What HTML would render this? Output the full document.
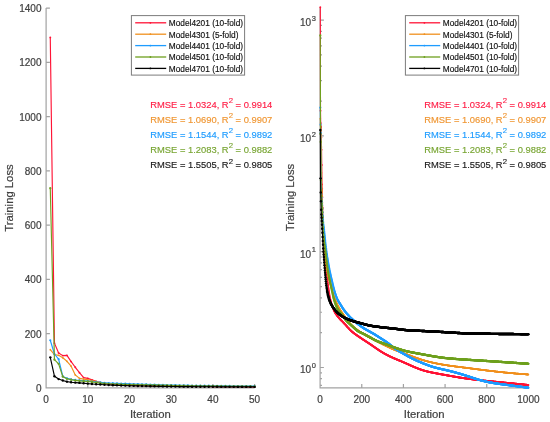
<!DOCTYPE html>
<html lang="en"><head><meta charset="utf-8"><title>Training Loss</title>
<style>html,body{margin:0;padding:0;background:#fff}svg{display:block;filter:blur(0.35px)}</style></head>
<body>
<svg width="550" height="422" viewBox="0 0 550 422" font-family="'Liberation Sans', sans-serif">
<rect width="550" height="422" fill="#fff"/>
<defs><marker id="mr" markerUnits="userSpaceOnUse" markerWidth="4" markerHeight="4" refX="2" refY="2" overflow="visible"><circle cx="2" cy="2" r="0.95" fill="#ff1436"/></marker><marker id="mo" markerUnits="userSpaceOnUse" markerWidth="4" markerHeight="4" refX="2" refY="2" overflow="visible"><circle cx="2" cy="2" r="0.85" fill="#f0901e"/></marker><marker id="mb" markerUnits="userSpaceOnUse" markerWidth="4" markerHeight="4" refX="2" refY="2" overflow="visible"><circle cx="2" cy="2" r="1.1" fill="#1e9cff"/></marker><marker id="mg" markerUnits="userSpaceOnUse" markerWidth="4" markerHeight="4" refX="2" refY="2" overflow="visible"><circle cx="2" cy="2" r="1.15" fill="#6ea01e"/></marker><marker id="mk" markerUnits="userSpaceOnUse" markerWidth="4" markerHeight="4" refX="2" refY="2" overflow="visible"><circle cx="2" cy="2" r="1.2" fill="#000000"/></marker></defs>
<g id="left">
<path d="M46.1,8.1 V387.9 H254.6" fill="none" stroke="#a2a2a2" stroke-width="1.2"/>
<path d="M46.1,333.64 h3.8 M46.1,279.39 h3.8 M46.1,225.13 h3.8 M46.1,170.87 h3.8 M46.1,116.61 h3.8 M46.1,62.36 h3.8 M46.1,8.10 h3.8 M87.80,387.9 v-3.8 M129.50,387.9 v-3.8 M171.20,387.9 v-3.8 M212.90,387.9 v-3.8 M254.60,387.9 v-3.8" fill="none" stroke="#a2a2a2" stroke-width="1.2"/>
<path d="M50.27,37.40 L54.44,343.14 L58.61,352.90 L62.78,355.62 L66.95,355.35 L71.12,361.59 L75.29,367.28 L79.46,372.71 L83.63,377.59 L87.80,378.40 L91.97,379.89 L96.14,381.39 L100.31,382.50 L104.48,383.40 L108.65,384.10 L112.82,384.68 L116.99,385.05 L121.16,385.23 L125.33,385.36 L129.50,385.46 L133.67,385.55 L137.84,385.64 L142.01,385.71 L146.18,385.78 L150.35,385.84 L154.52,385.89 L158.69,385.94 L162.86,385.98 L167.03,386.03 L171.20,386.07 L175.37,386.12 L179.54,386.17 L183.71,386.22 L187.88,386.28 L192.05,386.33 L196.22,386.38 L200.39,386.43 L204.56,386.48 L208.73,386.53 L212.90,386.57 L217.07,386.61 L221.24,386.65 L225.41,386.68 L229.58,386.72 L233.75,386.75 L237.92,386.78 L242.09,386.80 L246.26,386.82 L250.43,386.84 L254.60,386.86" fill="none" stroke="#ff1436" stroke-width="1.15" stroke-linejoin="round" marker-start="url(#mr)" marker-mid="url(#mr)" marker-end="url(#mr)"/>
<path d="M50.27,349.65 L54.44,354.53 L58.61,355.35 L62.78,357.79 L66.95,361.31 L71.12,366.20 L75.29,374.88 L79.46,378.40 L83.63,379.06 L87.80,379.76 L91.97,380.65 L96.14,381.60 L100.31,382.42 L104.48,383.02 L108.65,383.45 L112.82,383.83 L116.99,384.16 L121.16,384.44 L125.33,384.68 L129.50,384.88 L133.67,385.05 L137.84,385.19 L142.01,385.31 L146.18,385.41 L150.35,385.51 L154.52,385.60 L158.69,385.68 L162.86,385.75 L167.03,385.81 L171.20,385.87 L175.37,385.93 L179.54,385.98 L183.71,386.02 L187.88,386.07 L192.05,386.11 L196.22,386.14 L200.39,386.18 L204.56,386.21 L208.73,386.24 L212.90,386.26 L217.07,386.29 L221.24,386.32 L225.41,386.34 L229.58,386.36 L233.75,386.39 L237.92,386.41 L242.09,386.43 L246.26,386.45 L250.43,386.47 L254.60,386.49" fill="none" stroke="#f0901e" stroke-width="1.15" stroke-linejoin="round" marker-start="url(#mo)" marker-mid="url(#mo)" marker-end="url(#mo)"/>
<path d="M50.27,340.26 L54.44,353.99 L58.61,359.14 L62.78,376.23 L66.95,378.40 L71.12,379.35 L75.29,379.97 L79.46,380.44 L83.63,380.79 L87.80,381.12 L91.97,381.52 L96.14,381.96 L100.31,382.38 L104.48,382.74 L108.65,383.02 L112.82,383.22 L116.99,383.39 L121.16,383.54 L125.33,383.69 L129.50,383.83 L133.67,383.98 L137.84,384.13 L142.01,384.28 L146.18,384.42 L150.35,384.55 L154.52,384.68 L158.69,384.80 L162.86,384.91 L167.03,385.01 L171.20,385.10 L175.37,385.19 L179.54,385.27 L183.71,385.34 L187.88,385.42 L192.05,385.48 L196.22,385.55 L200.39,385.61 L204.56,385.66 L208.73,385.72 L212.90,385.77 L217.07,385.82 L221.24,385.87 L225.41,385.92 L229.58,385.96 L233.75,386.00 L237.92,386.04 L242.09,386.08 L246.26,386.12 L250.43,386.15 L254.60,386.18" fill="none" stroke="#1e9cff" stroke-width="1.15" stroke-linejoin="round" marker-start="url(#mb)" marker-mid="url(#mb)" marker-end="url(#mb)"/>
<path d="M50.27,188.23 L54.44,359.69 L58.61,363.86 L62.78,376.64 L66.95,378.78 L71.12,379.76 L75.29,380.38 L79.46,380.85 L83.63,381.18 L87.80,381.50 L91.97,381.97 L96.14,382.52 L100.31,383.06 L104.48,383.51 L108.65,383.83 L112.82,384.05 L116.99,384.23 L121.16,384.39 L125.33,384.52 L129.50,384.64 L133.67,384.75 L137.84,384.85 L142.01,384.94 L146.18,385.02 L150.35,385.10 L154.52,385.19 L158.69,385.27 L162.86,385.36 L167.03,385.44 L171.20,385.52 L175.37,385.60 L179.54,385.68 L183.71,385.75 L187.88,385.82 L192.05,385.89 L196.22,385.95 L200.39,386.01 L204.56,386.06 L208.73,386.10 L212.90,386.15 L217.07,386.19 L221.24,386.22 L225.41,386.26 L229.58,386.29 L233.75,386.32 L237.92,386.35 L242.09,386.38 L246.26,386.41 L250.43,386.44 L254.60,386.47" fill="none" stroke="#6ea01e" stroke-width="1.15" stroke-linejoin="round" marker-start="url(#mg)" marker-mid="url(#mg)" marker-end="url(#mg)"/>
<path d="M50.27,357.33 L54.44,376.23 L58.61,379.08 L62.78,380.49 L66.95,381.66 L71.12,382.20 L75.29,382.58 L79.46,382.91 L83.63,383.27 L87.80,383.61 L91.97,383.95 L96.14,384.26 L100.31,384.54 L104.48,384.78 L108.65,385.00 L112.82,385.19 L116.99,385.33 L121.16,385.46 L125.33,385.59 L129.50,385.71 L133.67,385.83 L137.84,385.94 L142.01,386.03 L146.18,386.12 L150.35,386.19 L154.52,386.27 L158.69,386.33 L162.86,386.40 L167.03,386.45 L171.20,386.51 L175.37,386.55 L179.54,386.60 L183.71,386.63 L187.88,386.66 L192.05,386.69 L196.22,386.72 L200.39,386.74 L204.56,386.76 L208.73,386.78 L212.90,386.80 L217.07,386.81 L221.24,386.83 L225.41,386.84 L229.58,386.86 L233.75,386.87 L237.92,386.88 L242.09,386.89 L246.26,386.90 L250.43,386.91 L254.60,386.92" fill="none" stroke="#000000" stroke-width="1.15" stroke-linejoin="round" marker-start="url(#mk)" marker-mid="url(#mk)" marker-end="url(#mk)"/>
<g font-size="10" fill="#404040" stroke="#404040" stroke-width="0.2">
<text x="41.5" y="391.9" text-anchor="end">0</text>
<text x="41.5" y="337.6" text-anchor="end">200</text>
<text x="41.5" y="283.4" text-anchor="end">400</text>
<text x="41.5" y="229.1" text-anchor="end">600</text>
<text x="41.5" y="174.9" text-anchor="end">800</text>
<text x="41.5" y="120.6" text-anchor="end">1000</text>
<text x="41.5" y="66.4" text-anchor="end">1200</text>
<text x="41.5" y="12.1" text-anchor="end">1400</text>
<text x="46.1" y="402.8" text-anchor="middle">0</text>
<text x="87.8" y="402.8" text-anchor="middle">10</text>
<text x="129.5" y="402.8" text-anchor="middle">20</text>
<text x="171.2" y="402.8" text-anchor="middle">30</text>
<text x="212.9" y="402.8" text-anchor="middle">40</text>
<text x="254.6" y="402.8" text-anchor="middle">50</text>
</g>
<text x="150.3" y="418" font-size="11.3" fill="#404040" stroke="#404040" stroke-width="0.2" text-anchor="middle">Iteration</text>
<text transform="translate(12.5,198.0) rotate(-90)" font-size="11.3" fill="#404040" stroke="#404040" stroke-width="0.2" text-anchor="middle">Training Loss</text>
</g>
<g id="right">
<clipPath id="rc"><rect x="318.1" y="5.2" width="214.29999999999995" height="388.7"/></clipPath>
<path d="M320.1,7.2 V387.9 H528.4" fill="none" stroke="#a2a2a2" stroke-width="1.2"/>
<path d="M320.1,367.50 h3.8 M320.1,251.70 h3.8 M320.1,135.90 h3.8 M320.1,20.10 h3.8 M320.1,385.44 h1.9 M320.1,378.72 h1.9 M320.1,372.80 h1.9 M320.1,332.64 h1.9 M320.1,312.25 h1.9 M320.1,297.78 h1.9 M320.1,286.56 h1.9 M320.1,277.39 h1.9 M320.1,269.64 h1.9 M320.1,262.92 h1.9 M320.1,257.00 h1.9 M320.1,216.84 h1.9 M320.1,196.45 h1.9 M320.1,181.98 h1.9 M320.1,170.76 h1.9 M320.1,161.59 h1.9 M320.1,153.84 h1.9 M320.1,147.12 h1.9 M320.1,141.20 h1.9 M320.1,101.04 h1.9 M320.1,80.65 h1.9 M320.1,66.18 h1.9 M320.1,54.96 h1.9 M320.1,45.79 h1.9 M320.1,38.04 h1.9 M320.1,31.32 h1.9 M320.1,25.40 h1.9 M361.76,387.9 v-3.8 M403.42,387.9 v-3.8 M445.08,387.9 v-3.8 M486.74,387.9 v-3.8 M528.40,387.9 v-3.8" fill="none" stroke="#a2a2a2" stroke-width="1.2"/>
<g clip-path="url(#rc)">
<path d="M320.31,7.22 L320.52,110.72 L320.72,123.09 L320.93,127.15 L321.14,126.73 L321.35,137.43 L321.56,149.70 L321.77,165.06 L321.97,184.56 L322.18,188.70 L322.39,197.25 L322.60,207.67 L322.81,217.05 L323.02,226.27 L323.22,234.78 L323.43,243.02 L323.64,249.25 L323.85,252.54 L324.06,254.94 L324.27,257.00 L324.47,258.99 L324.68,260.81 L324.89,262.48 L325.10,264.04 L325.31,265.50 L325.52,266.84 L325.72,268.05 L325.93,269.19 L326.14,270.34 L326.35,271.55 L326.56,272.87 L326.77,274.33 L326.97,275.90 L327.18,277.54 L327.39,279.24 L327.60,280.95 L327.81,282.65 L328.02,284.33 L328.22,285.94 L328.43,287.50 L328.64,289.04 L328.85,290.54 L329.06,292.00 L329.27,293.41 L329.47,294.75 L329.68,295.99 L329.89,297.14 L330.10,298.19 L330.31,299.17 L330.52,300.07 L330.72,300.93 L330.93,301.75 L331.14,302.53 L331.35,303.28 L331.56,304.01 L331.76,304.70 L331.97,305.37 L332.18,306.01 L332.39,306.63 L332.60,307.23 L332.81,307.80 L333.01,308.34 L333.22,308.86 L333.43,309.36 L333.64,309.84 L333.85,310.30 L334.06,310.75 L334.26,311.17 L334.47,311.57 L334.68,311.96 L334.89,312.34 L335.10,312.70 L335.31,313.04 L335.51,313.38 L335.72,313.70 L335.93,314.02 L336.14,314.32 L336.35,314.61 L336.56,314.90 L336.76,315.18 L336.97,315.46 L337.18,315.73 L337.39,316.00 L337.60,316.26 L337.81,316.52 L338.01,316.77 L338.22,317.03 L338.43,317.28 L338.64,317.53 L338.85,317.77 L339.06,318.02 L339.26,318.25 L339.47,318.49 L339.68,318.72 L339.89,318.95 L340.10,319.18 L340.31,319.41 L340.51,319.63 L340.72,319.85 L340.93,320.06 L341.14,320.28 L341.35,320.49 L341.55,320.70 L341.76,320.92 L341.97,321.13 L342.18,321.34 L342.39,321.55 L342.60,321.76 L342.80,321.97 L343.01,322.18 L343.22,322.40 L343.43,322.62 L343.64,322.83 L343.85,323.05 L344.05,323.27 L344.26,323.49 L344.47,323.72 L344.68,323.94 L344.89,324.17 L345.10,324.40 L345.30,324.62 L345.51,324.85 L345.72,325.08 L345.93,325.31 L346.14,325.54 L346.35,325.77 L346.55,326.00 L346.76,326.23 L346.97,326.47 L347.18,326.70 L347.39,326.93 L347.60,327.16 L347.80,327.38 L348.01,327.61 L348.22,327.84 L348.43,328.07 L348.64,328.30 L348.85,328.52 L349.05,328.75 L349.26,328.97 L349.47,329.19 L349.68,329.41 L349.89,329.63 L350.10,329.84 L350.30,330.05 L350.51,330.26 L350.72,330.46 L350.93,330.66 L351.14,330.86 L351.35,331.06 L351.55,331.25 L351.76,331.43 L351.97,331.62 L352.18,331.80 L352.39,331.98 L352.59,332.15 L352.80,332.32 L353.01,332.49 L353.22,332.66 L353.43,332.82 L353.64,332.99 L353.84,333.15 L354.05,333.31 L354.26,333.46 L354.47,333.62 L354.68,333.77 L354.89,333.92 L355.09,334.08 L355.30,334.23 L355.51,334.37 L355.72,334.52 L355.93,334.67 L356.14,334.82 L356.34,334.96 L356.55,335.11 L356.76,335.25 L356.97,335.39 L357.18,335.54 L357.39,335.68 L357.59,335.82 L357.80,335.96 L358.01,336.11 L358.22,336.25 L358.43,336.39 L358.64,336.53 L358.84,336.67 L359.05,336.81 L359.26,336.95 L359.47,337.10 L359.68,337.24 L359.89,337.38 L360.09,337.52 L360.30,337.66 L360.51,337.80 L360.72,337.94 L360.93,338.08 L361.14,338.22 L361.34,338.36 L361.55,338.50 L361.76,338.64 L361.97,338.78 L362.18,338.92 L362.38,339.05 L362.59,339.19 L362.80,339.33 L363.01,339.47 L363.22,339.61 L363.43,339.74 L363.63,339.88 L363.84,340.02 L364.05,340.15 L364.26,340.29 L364.47,340.42 L364.68,340.56 L364.88,340.70 L365.09,340.83 L365.30,340.97 L365.51,341.10 L365.72,341.24 L365.93,341.37 L366.13,341.51 L366.34,341.64 L366.55,341.78 L366.76,341.92 L366.97,342.05 L367.18,342.19 L367.38,342.32 L367.59,342.46 L367.80,342.60 L368.01,342.73 L368.22,342.87 L368.43,343.01 L368.63,343.15 L368.84,343.28 L369.05,343.42 L369.26,343.56 L369.47,343.70 L369.68,343.84 L369.88,343.98 L370.09,344.12 L370.30,344.26 L370.51,344.40 L370.72,344.54 L370.93,344.68 L371.13,344.82 L371.34,344.97 L371.55,345.11 L371.76,345.25 L371.97,345.39 L372.18,345.54 L372.38,345.68 L372.59,345.82 L372.80,345.97 L373.01,346.11 L373.22,346.26 L373.42,346.40 L373.63,346.55 L373.84,346.69 L374.05,346.84 L374.26,346.98 L374.47,347.13 L374.67,347.27 L374.88,347.42 L375.09,347.56 L375.30,347.70 L375.51,347.85 L375.72,347.99 L375.92,348.14 L376.13,348.28 L376.34,348.43 L376.55,348.57 L376.76,348.71 L376.97,348.85 L377.17,349.00 L377.38,349.14 L377.59,349.28 L377.80,349.42 L378.01,349.56 L378.22,349.70 L378.42,349.84 L378.63,349.98 L378.84,350.12 L379.05,350.26 L379.26,350.40 L379.47,350.54 L379.67,350.67 L379.88,350.81 L380.09,350.94 L380.30,351.08 L380.51,351.21 L380.72,351.34 L380.92,351.47 L381.13,351.61 L381.34,351.74 L381.55,351.86 L381.76,351.99 L381.97,352.12 L382.17,352.25 L382.38,352.37 L382.59,352.50 L382.80,352.62 L383.01,352.74 L383.21,352.87 L383.42,352.99 L383.63,353.11 L383.84,353.23 L384.05,353.35 L384.26,353.46 L384.46,353.58 L384.67,353.70 L384.88,353.81 L385.09,353.93 L385.30,354.04 L385.51,354.15 L385.71,354.27 L385.92,354.38 L386.13,354.49 L386.34,354.60 L386.55,354.71 L386.76,354.82 L386.96,354.93 L387.17,355.03 L387.38,355.14 L387.59,355.25 L387.80,355.35 L388.01,355.46 L388.21,355.56 L388.42,355.67 L388.63,355.77 L388.84,355.88 L389.05,355.98 L389.26,356.08 L389.46,356.18 L389.67,356.28 L389.88,356.38 L390.09,356.48 L390.30,356.58 L390.51,356.68 L390.71,356.78 L390.92,356.88 L391.13,356.98 L391.34,357.07 L391.55,357.17 L391.76,357.26 L391.96,357.36 L392.17,357.45 L392.38,357.55 L392.59,357.64 L392.80,357.74 L393.00,357.83 L393.21,357.92 L393.42,358.01 L393.63,358.11 L393.84,358.20 L394.05,358.29 L394.25,358.38 L394.46,358.47 L394.67,358.56 L394.88,358.65 L395.09,358.74 L395.30,358.82 L395.50,358.91 L395.71,359.00 L395.92,359.09 L396.13,359.18 L396.34,359.26 L396.55,359.35 L396.75,359.44 L396.96,359.52 L397.17,359.61 L397.38,359.70 L397.59,359.78 L397.80,359.87 L398.00,359.95 L398.21,360.04 L398.42,360.13 L398.63,360.21 L398.84,360.30 L399.05,360.38 L399.25,360.47 L399.46,360.56 L399.67,360.64 L399.88,360.73 L400.09,360.81 L400.30,360.90 L400.50,360.99 L400.71,361.08 L400.92,361.16 L401.13,361.25 L401.34,361.34 L401.55,361.42 L401.75,361.51 L401.96,361.60 L402.17,361.69 L402.38,361.78 L402.59,361.87 L402.80,361.96 L403.00,362.05 L403.21,362.14 L403.42,362.23 L403.63,362.32 L403.84,362.41 L404.04,362.50 L404.25,362.59 L404.46,362.68 L404.67,362.77 L404.88,362.86 L405.09,362.95 L405.29,363.05 L405.50,363.14 L405.71,363.23 L405.92,363.32 L406.13,363.42 L406.34,363.51 L406.54,363.60 L406.75,363.70 L406.96,363.79 L407.17,363.88 L407.38,363.98 L407.59,364.07 L407.79,364.16 L408.00,364.26 L408.21,364.35 L408.42,364.44 L408.63,364.54 L408.84,364.63 L409.04,364.73 L409.25,364.82 L409.46,364.91 L409.67,365.01 L409.88,365.10 L410.09,365.19 L410.29,365.28 L410.50,365.38 L410.71,365.47 L410.92,365.56 L411.13,365.65 L411.34,365.75 L411.54,365.84 L411.75,365.93 L411.96,366.02 L412.17,366.11 L412.38,366.20 L412.59,366.30 L412.79,366.39 L413.00,366.48 L413.21,366.57 L413.42,366.66 L413.63,366.74 L413.84,366.83 L414.04,366.92 L414.25,367.01 L414.46,367.10 L414.67,367.19 L414.88,367.27 L415.08,367.36 L415.29,367.45 L415.50,367.53 L415.71,367.62 L415.92,367.70 L416.13,367.79 L416.33,367.87 L416.54,367.96 L416.75,368.04 L416.96,368.13 L417.17,368.21 L417.38,368.29 L417.58,368.37 L417.79,368.45 L418.00,368.53 L418.21,368.61 L418.42,368.69 L418.63,368.77 L418.83,368.85 L419.04,368.93 L419.25,369.00 L419.46,369.08 L419.67,369.16 L419.88,369.23 L420.08,369.31 L420.29,369.38 L420.50,369.45 L420.71,369.53 L420.92,369.60 L421.13,369.67 L421.33,369.74 L421.54,369.81 L421.75,369.88 L421.96,369.95 L422.17,370.02 L422.38,370.08 L422.58,370.15 L422.79,370.21 L423.00,370.28 L423.21,370.34 L423.42,370.41 L423.63,370.47 L423.83,370.53 L424.04,370.59 L424.25,370.65 L424.46,370.71 L424.67,370.77 L424.87,370.83 L425.08,370.89 L425.29,370.95 L425.50,371.00 L425.71,371.06 L425.92,371.12 L426.12,371.17 L426.33,371.23 L426.54,371.28 L426.75,371.33 L426.96,371.38 L427.17,371.44 L427.37,371.49 L427.58,371.54 L427.79,371.59 L428.00,371.64 L428.21,371.69 L428.42,371.74 L428.62,371.79 L428.83,371.83 L429.04,371.88 L429.25,371.93 L429.46,371.98 L429.67,372.02 L429.87,372.07 L430.08,372.11 L430.29,372.16 L430.50,372.20 L430.71,372.25 L430.92,372.29 L431.12,372.34 L431.33,372.38 L431.54,372.42 L431.75,372.47 L431.96,372.51 L432.17,372.55 L432.37,372.60 L432.58,372.64 L432.79,372.68 L433.00,372.72 L433.21,372.76 L433.42,372.81 L433.62,372.85 L433.83,372.89 L434.04,372.93 L434.25,372.97 L434.46,373.01 L434.66,373.05 L434.87,373.09 L435.08,373.13 L435.29,373.17 L435.50,373.21 L435.71,373.25 L435.91,373.29 L436.12,373.33 L436.33,373.37 L436.54,373.41 L436.75,373.45 L436.96,373.49 L437.16,373.53 L437.37,373.57 L437.58,373.60 L437.79,373.64 L438.00,373.68 L438.21,373.72 L438.41,373.76 L438.62,373.80 L438.83,373.84 L439.04,373.87 L439.25,373.91 L439.46,373.95 L439.66,373.99 L439.87,374.03 L440.08,374.07 L440.29,374.10 L440.50,374.14 L440.71,374.18 L440.91,374.22 L441.12,374.26 L441.33,374.29 L441.54,374.33 L441.75,374.37 L441.96,374.41 L442.16,374.45 L442.37,374.48 L442.58,374.52 L442.79,374.56 L443.00,374.60 L443.21,374.63 L443.41,374.67 L443.62,374.71 L443.83,374.75 L444.04,374.78 L444.25,374.82 L444.46,374.86 L444.66,374.90 L444.87,374.93 L445.08,374.97 L445.29,375.01 L445.50,375.05 L445.70,375.08 L445.91,375.12 L446.12,375.16 L446.33,375.20 L446.54,375.23 L446.75,375.27 L446.95,375.31 L447.16,375.35 L447.37,375.38 L447.58,375.42 L447.79,375.46 L448.00,375.50 L448.20,375.53 L448.41,375.57 L448.62,375.61 L448.83,375.65 L449.04,375.68 L449.25,375.72 L449.45,375.76 L449.66,375.79 L449.87,375.83 L450.08,375.87 L450.29,375.91 L450.50,375.94 L450.70,375.98 L450.91,376.02 L451.12,376.05 L451.33,376.09 L451.54,376.13 L451.75,376.17 L451.95,376.20 L452.16,376.24 L452.37,376.28 L452.58,376.31 L452.79,376.35 L453.00,376.39 L453.20,376.42 L453.41,376.46 L453.62,376.50 L453.83,376.53 L454.04,376.57 L454.25,376.60 L454.45,376.64 L454.66,376.68 L454.87,376.71 L455.08,376.75 L455.29,376.78 L455.50,376.82 L455.70,376.86 L455.91,376.89 L456.12,376.93 L456.33,376.96 L456.54,377.00 L456.74,377.03 L456.95,377.07 L457.16,377.10 L457.37,377.14 L457.58,377.17 L457.79,377.21 L457.99,377.24 L458.20,377.28 L458.41,377.31 L458.62,377.34 L458.83,377.38 L459.04,377.41 L459.24,377.45 L459.45,377.48 L459.66,377.51 L459.87,377.55 L460.08,377.58 L460.29,377.61 L460.49,377.65 L460.70,377.68 L460.91,377.71 L461.12,377.74 L461.33,377.78 L461.54,377.81 L461.74,377.84 L461.95,377.87 L462.16,377.90 L462.37,377.94 L462.58,377.97 L462.79,378.00 L462.99,378.03 L463.20,378.06 L463.41,378.09 L463.62,378.12 L463.83,378.15 L464.04,378.19 L464.24,378.22 L464.45,378.25 L464.66,378.28 L464.87,378.31 L465.08,378.34 L465.29,378.37 L465.49,378.40 L465.70,378.42 L465.91,378.45 L466.12,378.48 L466.33,378.51 L466.53,378.54 L466.74,378.57 L466.95,378.60 L467.16,378.63 L467.37,378.66 L467.58,378.68 L467.78,378.71 L467.99,378.74 L468.20,378.77 L468.41,378.79 L468.62,378.82 L468.83,378.85 L469.03,378.88 L469.24,378.90 L469.45,378.93 L469.66,378.96 L469.87,378.99 L470.08,379.01 L470.28,379.04 L470.49,379.06 L470.70,379.09 L470.91,379.12 L471.12,379.14 L471.33,379.17 L471.53,379.20 L471.74,379.22 L471.95,379.25 L472.16,379.27 L472.37,379.30 L472.58,379.32 L472.78,379.35 L472.99,379.37 L473.20,379.40 L473.41,379.42 L473.62,379.45 L473.83,379.47 L474.03,379.50 L474.24,379.52 L474.45,379.55 L474.66,379.57 L474.87,379.60 L475.08,379.62 L475.28,379.64 L475.49,379.67 L475.70,379.69 L475.91,379.72 L476.12,379.74 L476.32,379.76 L476.53,379.79 L476.74,379.81 L476.95,379.84 L477.16,379.86 L477.37,379.88 L477.57,379.91 L477.78,379.93 L477.99,379.95 L478.20,379.98 L478.41,380.00 L478.62,380.02 L478.82,380.05 L479.03,380.07 L479.24,380.09 L479.45,380.11 L479.66,380.14 L479.87,380.16 L480.07,380.18 L480.28,380.21 L480.49,380.23 L480.70,380.25 L480.91,380.27 L481.12,380.30 L481.32,380.32 L481.53,380.34 L481.74,380.36 L481.95,380.38 L482.16,380.41 L482.37,380.43 L482.57,380.45 L482.78,380.47 L482.99,380.50 L483.20,380.52 L483.41,380.54 L483.62,380.56 L483.82,380.58 L484.03,380.60 L484.24,380.63 L484.45,380.65 L484.66,380.67 L484.87,380.69 L485.07,380.71 L485.28,380.73 L485.49,380.76 L485.70,380.78 L485.91,380.80 L486.12,380.82 L486.32,380.84 L486.53,380.86 L486.74,380.89 L486.95,380.91 L487.16,380.93 L487.36,380.95 L487.57,380.97 L487.78,380.99 L487.99,381.01 L488.20,381.03 L488.41,381.05 L488.61,381.08 L488.82,381.10 L489.03,381.12 L489.24,381.14 L489.45,381.16 L489.66,381.18 L489.86,381.20 L490.07,381.22 L490.28,381.24 L490.49,381.26 L490.70,381.28 L490.91,381.31 L491.11,381.33 L491.32,381.35 L491.53,381.37 L491.74,381.39 L491.95,381.41 L492.16,381.43 L492.36,381.45 L492.57,381.47 L492.78,381.49 L492.99,381.51 L493.20,381.53 L493.41,381.55 L493.61,381.57 L493.82,381.59 L494.03,381.61 L494.24,381.63 L494.45,381.65 L494.66,381.67 L494.86,381.70 L495.07,381.72 L495.28,381.74 L495.49,381.76 L495.70,381.78 L495.91,381.80 L496.11,381.82 L496.32,381.84 L496.53,381.86 L496.74,381.88 L496.95,381.90 L497.15,381.92 L497.36,381.94 L497.57,381.96 L497.78,381.98 L497.99,382.00 L498.20,382.02 L498.40,382.04 L498.61,382.06 L498.82,382.08 L499.03,382.10 L499.24,382.12 L499.45,382.14 L499.65,382.16 L499.86,382.18 L500.07,382.20 L500.28,382.22 L500.49,382.24 L500.70,382.26 L500.90,382.28 L501.11,382.30 L501.32,382.32 L501.53,382.34 L501.74,382.36 L501.95,382.38 L502.15,382.40 L502.36,382.42 L502.57,382.44 L502.78,382.46 L502.99,382.48 L503.20,382.50 L503.40,382.52 L503.61,382.54 L503.82,382.56 L504.03,382.58 L504.24,382.60 L504.45,382.62 L504.65,382.64 L504.86,382.66 L505.07,382.68 L505.28,382.70 L505.49,382.73 L505.70,382.75 L505.90,382.77 L506.11,382.79 L506.32,382.81 L506.53,382.83 L506.74,382.85 L506.95,382.87 L507.15,382.89 L507.36,382.91 L507.57,382.93 L507.78,382.95 L507.99,382.97 L508.19,382.99 L508.40,383.01 L508.61,383.03 L508.82,383.05 L509.03,383.07 L509.24,383.09 L509.44,383.11 L509.65,383.13 L509.86,383.15 L510.07,383.17 L510.28,383.19 L510.49,383.21 L510.69,383.23 L510.90,383.26 L511.11,383.28 L511.32,383.30 L511.53,383.32 L511.74,383.34 L511.94,383.36 L512.15,383.38 L512.36,383.40 L512.57,383.42 L512.78,383.44 L512.99,383.46 L513.19,383.48 L513.40,383.50 L513.61,383.52 L513.82,383.54 L514.03,383.56 L514.24,383.58 L514.44,383.61 L514.65,383.63 L514.86,383.65 L515.07,383.67 L515.28,383.69 L515.49,383.71 L515.69,383.73 L515.90,383.75 L516.11,383.77 L516.32,383.79 L516.53,383.81 L516.74,383.83 L516.94,383.85 L517.15,383.88 L517.36,383.90 L517.57,383.92 L517.78,383.94 L517.99,383.96 L518.19,383.98 L518.40,384.00 L518.61,384.02 L518.82,384.04 L519.03,384.06 L519.23,384.08 L519.44,384.10 L519.65,384.13 L519.86,384.15 L520.07,384.17 L520.28,384.19 L520.48,384.21 L520.69,384.23 L520.90,384.25 L521.11,384.27 L521.32,384.29 L521.53,384.31 L521.73,384.34 L521.94,384.36 L522.15,384.38 L522.36,384.40 L522.57,384.42 L522.78,384.44 L522.98,384.46 L523.19,384.48 L523.40,384.50 L523.61,384.52 L523.82,384.54 L524.03,384.57 L524.23,384.59 L524.44,384.61 L524.65,384.63 L524.86,384.65 L525.07,384.67 L525.28,384.69 L525.48,384.71 L525.69,384.73 L525.90,384.76 L526.11,384.78 L526.32,384.80 L526.53,384.82 L526.73,384.84 L526.94,384.86 L527.15,384.88 L527.36,384.90 L527.57,384.92 L527.78,384.94 L527.98,384.97 L528.19,384.99 L528.40,385.01" fill="none" stroke="#ff1436" stroke-width="1.1" stroke-linejoin="round" marker-start="url(#mr)" marker-mid="url(#mr)" marker-end="url(#mr)"/>
<path d="M320.31,118.62 L320.52,125.49 L320.72,126.73 L320.93,130.65 L321.14,136.92 L321.35,147.12 L321.56,172.81 L321.77,188.70 L321.97,192.27 L322.18,196.45 L322.39,202.29 L322.60,209.31 L322.81,216.32 L323.02,222.14 L323.22,226.86 L323.43,231.33 L323.64,235.53 L323.85,239.44 L324.06,243.04 L324.27,246.29 L324.47,249.19 L324.68,251.70 L324.89,253.95 L325.10,256.06 L325.31,258.05 L325.52,259.92 L325.72,261.68 L325.93,263.33 L326.14,264.88 L326.35,266.35 L326.56,267.73 L326.77,269.04 L326.97,270.27 L327.18,271.43 L327.39,272.54 L327.60,273.57 L327.81,274.55 L328.02,275.47 L328.22,276.33 L328.43,277.16 L328.64,277.96 L328.85,278.73 L329.06,279.49 L329.27,280.25 L329.47,281.01 L329.68,281.77 L329.89,282.53 L330.10,283.28 L330.31,284.03 L330.52,284.77 L330.72,285.51 L330.93,286.25 L331.14,286.97 L331.35,287.68 L331.56,288.39 L331.76,289.09 L331.97,289.79 L332.18,290.47 L332.39,291.16 L332.60,291.85 L332.81,292.52 L333.01,293.19 L333.22,293.86 L333.43,294.52 L333.64,295.18 L333.85,295.82 L334.06,296.45 L334.26,297.06 L334.47,297.66 L334.68,298.24 L334.89,298.80 L335.10,299.35 L335.31,299.88 L335.51,300.39 L335.72,300.90 L335.93,301.39 L336.14,301.87 L336.35,302.34 L336.56,302.80 L336.76,303.25 L336.97,303.70 L337.18,304.13 L337.39,304.56 L337.60,304.99 L337.81,305.40 L338.01,305.81 L338.22,306.22 L338.43,306.61 L338.64,307.00 L338.85,307.39 L339.06,307.77 L339.26,308.14 L339.47,308.51 L339.68,308.87 L339.89,309.23 L340.10,309.58 L340.31,309.93 L340.51,310.26 L340.72,310.60 L340.93,310.93 L341.14,311.25 L341.35,311.57 L341.55,311.88 L341.76,312.19 L341.97,312.50 L342.18,312.80 L342.39,313.10 L342.60,313.40 L342.80,313.69 L343.01,313.98 L343.22,314.27 L343.43,314.57 L343.64,314.86 L343.85,315.15 L344.05,315.44 L344.26,315.73 L344.47,316.02 L344.68,316.31 L344.89,316.60 L345.10,316.89 L345.30,317.19 L345.51,317.48 L345.72,317.77 L345.93,318.06 L346.14,318.36 L346.35,318.65 L346.55,318.94 L346.76,319.23 L346.97,319.52 L347.18,319.80 L347.39,320.09 L347.60,320.37 L347.80,320.65 L348.01,320.93 L348.22,321.21 L348.43,321.48 L348.64,321.75 L348.85,322.01 L349.05,322.27 L349.26,322.53 L349.47,322.78 L349.68,323.03 L349.89,323.28 L350.10,323.52 L350.30,323.75 L350.51,323.98 L350.72,324.21 L350.93,324.43 L351.14,324.65 L351.35,324.86 L351.55,325.07 L351.76,325.28 L351.97,325.48 L352.18,325.68 L352.39,325.88 L352.59,326.07 L352.80,326.26 L353.01,326.45 L353.22,326.63 L353.43,326.82 L353.64,327.00 L353.84,327.17 L354.05,327.35 L354.26,327.52 L354.47,327.69 L354.68,327.86 L354.89,328.03 L355.09,328.20 L355.30,328.36 L355.51,328.53 L355.72,328.69 L355.93,328.85 L356.14,329.00 L356.34,329.16 L356.55,329.32 L356.76,329.47 L356.97,329.62 L357.18,329.77 L357.39,329.92 L357.59,330.07 L357.80,330.22 L358.01,330.37 L358.22,330.51 L358.43,330.66 L358.64,330.80 L358.84,330.94 L359.05,331.09 L359.26,331.23 L359.47,331.37 L359.68,331.51 L359.89,331.65 L360.09,331.79 L360.30,331.92 L360.51,332.06 L360.72,332.20 L360.93,332.33 L361.14,332.47 L361.34,332.60 L361.55,332.74 L361.76,332.87 L361.97,333.00 L362.18,333.14 L362.38,333.27 L362.59,333.40 L362.80,333.53 L363.01,333.66 L363.22,333.79 L363.43,333.92 L363.63,334.05 L363.84,334.18 L364.05,334.31 L364.26,334.43 L364.47,334.56 L364.68,334.69 L364.88,334.81 L365.09,334.94 L365.30,335.06 L365.51,335.19 L365.72,335.31 L365.93,335.43 L366.13,335.55 L366.34,335.68 L366.55,335.80 L366.76,335.92 L366.97,336.04 L367.18,336.16 L367.38,336.28 L367.59,336.40 L367.80,336.52 L368.01,336.63 L368.22,336.75 L368.43,336.87 L368.63,336.99 L368.84,337.10 L369.05,337.22 L369.26,337.33 L369.47,337.45 L369.68,337.56 L369.88,337.68 L370.09,337.79 L370.30,337.90 L370.51,338.02 L370.72,338.13 L370.93,338.24 L371.13,338.36 L371.34,338.47 L371.55,338.58 L371.76,338.69 L371.97,338.80 L372.18,338.91 L372.38,339.02 L372.59,339.13 L372.80,339.24 L373.01,339.35 L373.22,339.46 L373.42,339.57 L373.63,339.68 L373.84,339.78 L374.05,339.89 L374.26,340.00 L374.47,340.11 L374.67,340.21 L374.88,340.32 L375.09,340.43 L375.30,340.53 L375.51,340.64 L375.72,340.75 L375.92,340.85 L376.13,340.96 L376.34,341.06 L376.55,341.17 L376.76,341.27 L376.97,341.38 L377.17,341.48 L377.38,341.59 L377.59,341.69 L377.80,341.80 L378.01,341.90 L378.22,342.01 L378.42,342.11 L378.63,342.21 L378.84,342.32 L379.05,342.42 L379.26,342.53 L379.47,342.63 L379.67,342.73 L379.88,342.84 L380.09,342.94 L380.30,343.04 L380.51,343.15 L380.72,343.25 L380.92,343.35 L381.13,343.46 L381.34,343.56 L381.55,343.66 L381.76,343.76 L381.97,343.87 L382.17,343.97 L382.38,344.07 L382.59,344.18 L382.80,344.28 L383.01,344.38 L383.21,344.48 L383.42,344.59 L383.63,344.69 L383.84,344.79 L384.05,344.89 L384.26,345.00 L384.46,345.10 L384.67,345.20 L384.88,345.30 L385.09,345.41 L385.30,345.51 L385.51,345.61 L385.71,345.71 L385.92,345.81 L386.13,345.91 L386.34,346.02 L386.55,346.12 L386.76,346.22 L386.96,346.32 L387.17,346.42 L387.38,346.52 L387.59,346.62 L387.80,346.72 L388.01,346.82 L388.21,346.92 L388.42,347.02 L388.63,347.12 L388.84,347.22 L389.05,347.32 L389.26,347.41 L389.46,347.51 L389.67,347.61 L389.88,347.71 L390.09,347.80 L390.30,347.90 L390.51,348.00 L390.71,348.09 L390.92,348.19 L391.13,348.28 L391.34,348.38 L391.55,348.47 L391.76,348.56 L391.96,348.66 L392.17,348.75 L392.38,348.84 L392.59,348.94 L392.80,349.03 L393.00,349.12 L393.21,349.21 L393.42,349.30 L393.63,349.39 L393.84,349.47 L394.05,349.56 L394.25,349.65 L394.46,349.74 L394.67,349.82 L394.88,349.91 L395.09,349.99 L395.30,350.08 L395.50,350.16 L395.71,350.25 L395.92,350.33 L396.13,350.41 L396.34,350.49 L396.55,350.57 L396.75,350.65 L396.96,350.73 L397.17,350.81 L397.38,350.89 L397.59,350.97 L397.80,351.05 L398.00,351.12 L398.21,351.20 L398.42,351.28 L398.63,351.35 L398.84,351.43 L399.05,351.50 L399.25,351.58 L399.46,351.65 L399.67,351.73 L399.88,351.80 L400.09,351.87 L400.30,351.95 L400.50,352.02 L400.71,352.09 L400.92,352.17 L401.13,352.24 L401.34,352.31 L401.55,352.39 L401.75,352.46 L401.96,352.53 L402.17,352.61 L402.38,352.68 L402.59,352.76 L402.80,352.83 L403.00,352.91 L403.21,352.98 L403.42,353.06 L403.63,353.13 L403.84,353.20 L404.04,353.28 L404.25,353.36 L404.46,353.43 L404.67,353.51 L404.88,353.59 L405.09,353.66 L405.29,353.74 L405.50,353.82 L405.71,353.89 L405.92,353.97 L406.13,354.05 L406.34,354.13 L406.54,354.21 L406.75,354.29 L406.96,354.36 L407.17,354.44 L407.38,354.52 L407.59,354.60 L407.79,354.68 L408.00,354.76 L408.21,354.84 L408.42,354.92 L408.63,355.00 L408.84,355.08 L409.04,355.16 L409.25,355.24 L409.46,355.32 L409.67,355.40 L409.88,355.47 L410.09,355.55 L410.29,355.63 L410.50,355.71 L410.71,355.79 L410.92,355.87 L411.13,355.95 L411.34,356.03 L411.54,356.10 L411.75,356.18 L411.96,356.26 L412.17,356.34 L412.38,356.42 L412.59,356.49 L412.79,356.57 L413.00,356.65 L413.21,356.72 L413.42,356.80 L413.63,356.88 L413.84,356.95 L414.04,357.03 L414.25,357.11 L414.46,357.18 L414.67,357.26 L414.88,357.33 L415.08,357.41 L415.29,357.48 L415.50,357.56 L415.71,357.63 L415.92,357.70 L416.13,357.78 L416.33,357.85 L416.54,357.93 L416.75,358.00 L416.96,358.07 L417.17,358.15 L417.38,358.22 L417.58,358.29 L417.79,358.36 L418.00,358.43 L418.21,358.51 L418.42,358.58 L418.63,358.65 L418.83,358.72 L419.04,358.79 L419.25,358.86 L419.46,358.93 L419.67,359.00 L419.88,359.07 L420.08,359.14 L420.29,359.21 L420.50,359.28 L420.71,359.35 L420.92,359.41 L421.13,359.48 L421.33,359.55 L421.54,359.62 L421.75,359.68 L421.96,359.75 L422.17,359.81 L422.38,359.88 L422.58,359.94 L422.79,360.01 L423.00,360.07 L423.21,360.14 L423.42,360.20 L423.63,360.26 L423.83,360.33 L424.04,360.39 L424.25,360.45 L424.46,360.51 L424.67,360.57 L424.87,360.63 L425.08,360.69 L425.29,360.75 L425.50,360.81 L425.71,360.87 L425.92,360.93 L426.12,360.99 L426.33,361.04 L426.54,361.10 L426.75,361.16 L426.96,361.21 L427.17,361.27 L427.37,361.33 L427.58,361.38 L427.79,361.44 L428.00,361.49 L428.21,361.54 L428.42,361.60 L428.62,361.65 L428.83,361.70 L429.04,361.76 L429.25,361.81 L429.46,361.86 L429.67,361.91 L429.87,361.96 L430.08,362.01 L430.29,362.06 L430.50,362.11 L430.71,362.16 L430.92,362.21 L431.12,362.26 L431.33,362.31 L431.54,362.36 L431.75,362.41 L431.96,362.46 L432.17,362.50 L432.37,362.55 L432.58,362.60 L432.79,362.64 L433.00,362.69 L433.21,362.74 L433.42,362.78 L433.62,362.83 L433.83,362.87 L434.04,362.92 L434.25,362.96 L434.46,363.01 L434.66,363.05 L434.87,363.10 L435.08,363.14 L435.29,363.18 L435.50,363.23 L435.71,363.27 L435.91,363.31 L436.12,363.35 L436.33,363.40 L436.54,363.44 L436.75,363.48 L436.96,363.52 L437.16,363.56 L437.37,363.60 L437.58,363.65 L437.79,363.69 L438.00,363.73 L438.21,363.77 L438.41,363.81 L438.62,363.85 L438.83,363.89 L439.04,363.93 L439.25,363.96 L439.46,364.00 L439.66,364.04 L439.87,364.08 L440.08,364.12 L440.29,364.16 L440.50,364.19 L440.71,364.23 L440.91,364.27 L441.12,364.31 L441.33,364.34 L441.54,364.38 L441.75,364.42 L441.96,364.45 L442.16,364.49 L442.37,364.53 L442.58,364.56 L442.79,364.60 L443.00,364.63 L443.21,364.67 L443.41,364.70 L443.62,364.74 L443.83,364.77 L444.04,364.81 L444.25,364.84 L444.46,364.87 L444.66,364.91 L444.87,364.94 L445.08,364.98 L445.29,365.01 L445.50,365.04 L445.70,365.07 L445.91,365.11 L446.12,365.14 L446.33,365.17 L446.54,365.20 L446.75,365.24 L446.95,365.27 L447.16,365.30 L447.37,365.33 L447.58,365.36 L447.79,365.39 L448.00,365.43 L448.20,365.46 L448.41,365.49 L448.62,365.52 L448.83,365.55 L449.04,365.58 L449.25,365.61 L449.45,365.64 L449.66,365.67 L449.87,365.70 L450.08,365.73 L450.29,365.76 L450.50,365.79 L450.70,365.81 L450.91,365.84 L451.12,365.87 L451.33,365.90 L451.54,365.93 L451.75,365.96 L451.95,365.99 L452.16,366.01 L452.37,366.04 L452.58,366.07 L452.79,366.10 L453.00,366.13 L453.20,366.15 L453.41,366.18 L453.62,366.21 L453.83,366.24 L454.04,366.26 L454.25,366.29 L454.45,366.32 L454.66,366.35 L454.87,366.37 L455.08,366.40 L455.29,366.43 L455.50,366.45 L455.70,366.48 L455.91,366.51 L456.12,366.53 L456.33,366.56 L456.54,366.59 L456.74,366.61 L456.95,366.64 L457.16,366.67 L457.37,366.69 L457.58,366.72 L457.79,366.75 L457.99,366.77 L458.20,366.80 L458.41,366.83 L458.62,366.85 L458.83,366.88 L459.04,366.90 L459.24,366.93 L459.45,366.96 L459.66,366.98 L459.87,367.01 L460.08,367.04 L460.29,367.06 L460.49,367.09 L460.70,367.11 L460.91,367.14 L461.12,367.17 L461.33,367.19 L461.54,367.22 L461.74,367.24 L461.95,367.27 L462.16,367.30 L462.37,367.32 L462.58,367.35 L462.79,367.38 L462.99,367.40 L463.20,367.43 L463.41,367.45 L463.62,367.48 L463.83,367.51 L464.04,367.53 L464.24,367.56 L464.45,367.59 L464.66,367.61 L464.87,367.64 L465.08,367.67 L465.29,367.69 L465.49,367.72 L465.70,367.75 L465.91,367.77 L466.12,367.80 L466.33,367.83 L466.53,367.85 L466.74,367.88 L466.95,367.91 L467.16,367.93 L467.37,367.96 L467.58,367.99 L467.78,368.01 L467.99,368.04 L468.20,368.07 L468.41,368.09 L468.62,368.12 L468.83,368.15 L469.03,368.17 L469.24,368.20 L469.45,368.23 L469.66,368.25 L469.87,368.28 L470.08,368.31 L470.28,368.33 L470.49,368.36 L470.70,368.39 L470.91,368.42 L471.12,368.44 L471.33,368.47 L471.53,368.50 L471.74,368.52 L471.95,368.55 L472.16,368.58 L472.37,368.60 L472.58,368.63 L472.78,368.66 L472.99,368.69 L473.20,368.71 L473.41,368.74 L473.62,368.77 L473.83,368.79 L474.03,368.82 L474.24,368.85 L474.45,368.87 L474.66,368.90 L474.87,368.93 L475.08,368.95 L475.28,368.98 L475.49,369.01 L475.70,369.04 L475.91,369.06 L476.12,369.09 L476.32,369.12 L476.53,369.14 L476.74,369.17 L476.95,369.20 L477.16,369.22 L477.37,369.25 L477.57,369.28 L477.78,369.30 L477.99,369.33 L478.20,369.36 L478.41,369.38 L478.62,369.41 L478.82,369.44 L479.03,369.46 L479.24,369.49 L479.45,369.52 L479.66,369.54 L479.87,369.57 L480.07,369.60 L480.28,369.62 L480.49,369.65 L480.70,369.68 L480.91,369.70 L481.12,369.73 L481.32,369.76 L481.53,369.78 L481.74,369.81 L481.95,369.83 L482.16,369.86 L482.37,369.89 L482.57,369.91 L482.78,369.94 L482.99,369.97 L483.20,369.99 L483.41,370.02 L483.62,370.04 L483.82,370.07 L484.03,370.10 L484.24,370.12 L484.45,370.15 L484.66,370.17 L484.87,370.20 L485.07,370.22 L485.28,370.25 L485.49,370.28 L485.70,370.30 L485.91,370.33 L486.12,370.35 L486.32,370.38 L486.53,370.40 L486.74,370.43 L486.95,370.46 L487.16,370.48 L487.36,370.51 L487.57,370.53 L487.78,370.56 L487.99,370.58 L488.20,370.61 L488.41,370.63 L488.61,370.66 L488.82,370.68 L489.03,370.71 L489.24,370.73 L489.45,370.76 L489.66,370.78 L489.86,370.81 L490.07,370.83 L490.28,370.86 L490.49,370.88 L490.70,370.91 L490.91,370.93 L491.11,370.96 L491.32,370.98 L491.53,371.01 L491.74,371.03 L491.95,371.06 L492.16,371.08 L492.36,371.10 L492.57,371.13 L492.78,371.15 L492.99,371.18 L493.20,371.20 L493.41,371.23 L493.61,371.25 L493.82,371.27 L494.03,371.30 L494.24,371.32 L494.45,371.35 L494.66,371.37 L494.86,371.39 L495.07,371.42 L495.28,371.44 L495.49,371.47 L495.70,371.49 L495.91,371.51 L496.11,371.54 L496.32,371.56 L496.53,371.58 L496.74,371.61 L496.95,371.63 L497.15,371.65 L497.36,371.68 L497.57,371.70 L497.78,371.72 L497.99,371.75 L498.20,371.77 L498.40,371.79 L498.61,371.82 L498.82,371.84 L499.03,371.86 L499.24,371.88 L499.45,371.91 L499.65,371.93 L499.86,371.95 L500.07,371.97 L500.28,372.00 L500.49,372.02 L500.70,372.04 L500.90,372.06 L501.11,372.09 L501.32,372.11 L501.53,372.13 L501.74,372.15 L501.95,372.17 L502.15,372.20 L502.36,372.22 L502.57,372.24 L502.78,372.26 L502.99,372.28 L503.20,372.30 L503.40,372.33 L503.61,372.35 L503.82,372.37 L504.03,372.39 L504.24,372.41 L504.45,372.43 L504.65,372.45 L504.86,372.47 L505.07,372.50 L505.28,372.52 L505.49,372.54 L505.70,372.56 L505.90,372.58 L506.11,372.60 L506.32,372.62 L506.53,372.64 L506.74,372.66 L506.95,372.68 L507.15,372.70 L507.36,372.72 L507.57,372.74 L507.78,372.76 L507.99,372.78 L508.19,372.80 L508.40,372.82 L508.61,372.84 L508.82,372.86 L509.03,372.88 L509.24,372.90 L509.44,372.92 L509.65,372.94 L509.86,372.96 L510.07,372.98 L510.28,373.00 L510.49,373.02 L510.69,373.04 L510.90,373.06 L511.11,373.08 L511.32,373.10 L511.53,373.11 L511.74,373.13 L511.94,373.15 L512.15,373.17 L512.36,373.19 L512.57,373.21 L512.78,373.23 L512.99,373.25 L513.19,373.27 L513.40,373.28 L513.61,373.30 L513.82,373.32 L514.03,373.34 L514.24,373.36 L514.44,373.38 L514.65,373.39 L514.86,373.41 L515.07,373.43 L515.28,373.45 L515.49,373.47 L515.69,373.48 L515.90,373.50 L516.11,373.52 L516.32,373.54 L516.53,373.56 L516.74,373.57 L516.94,373.59 L517.15,373.61 L517.36,373.63 L517.57,373.64 L517.78,373.66 L517.99,373.68 L518.19,373.70 L518.40,373.71 L518.61,373.73 L518.82,373.75 L519.03,373.76 L519.23,373.78 L519.44,373.80 L519.65,373.82 L519.86,373.83 L520.07,373.85 L520.28,373.87 L520.48,373.88 L520.69,373.90 L520.90,373.92 L521.11,373.93 L521.32,373.95 L521.53,373.97 L521.73,373.98 L521.94,374.00 L522.15,374.02 L522.36,374.03 L522.57,374.05 L522.78,374.07 L522.98,374.08 L523.19,374.10 L523.40,374.12 L523.61,374.13 L523.82,374.15 L524.03,374.17 L524.23,374.18 L524.44,374.20 L524.65,374.22 L524.86,374.23 L525.07,374.25 L525.28,374.26 L525.48,374.28 L525.69,374.30 L525.90,374.31 L526.11,374.33 L526.32,374.35 L526.53,374.36 L526.73,374.38 L526.94,374.39 L527.15,374.41 L527.36,374.43 L527.57,374.44 L527.78,374.46 L527.98,374.47 L528.19,374.49 L528.40,374.51" fill="none" stroke="#f0901e" stroke-width="1.1" stroke-linejoin="round" marker-start="url(#mo)" marker-mid="url(#mo)" marker-end="url(#mo)"/>
<path d="M320.31,107.58 L320.52,124.68 L320.72,132.97 L320.93,178.34 L321.14,188.70 L321.35,194.00 L321.56,197.77 L321.77,200.83 L321.97,203.25 L322.18,205.62 L322.39,208.70 L322.60,212.26 L322.81,215.93 L323.02,219.35 L323.22,222.14 L323.43,224.31 L323.64,226.17 L323.85,227.88 L324.06,229.54 L324.27,231.31 L324.47,233.20 L324.68,235.15 L324.89,237.13 L325.10,239.13 L325.31,241.12 L325.52,243.07 L325.72,244.98 L325.93,246.81 L326.14,248.55 L326.35,250.19 L326.56,251.74 L326.77,253.25 L326.97,254.70 L327.18,256.12 L327.39,257.50 L327.60,258.84 L327.81,260.15 L328.02,261.44 L328.22,262.69 L328.43,263.92 L328.64,265.13 L328.85,266.31 L329.06,267.46 L329.27,268.58 L329.47,269.68 L329.68,270.74 L329.89,271.76 L330.10,272.75 L330.31,273.72 L330.52,274.65 L330.72,275.57 L330.93,276.48 L331.14,277.37 L331.35,278.25 L331.56,279.13 L331.76,280.02 L331.97,280.91 L332.18,281.81 L332.39,282.71 L332.60,283.62 L332.81,284.53 L333.01,285.41 L333.22,286.29 L333.43,287.13 L333.64,287.96 L333.85,288.75 L334.06,289.54 L334.26,290.29 L334.47,291.03 L334.68,291.75 L334.89,292.46 L335.10,293.15 L335.31,293.82 L335.51,294.47 L335.72,295.11 L335.93,295.72 L336.14,296.30 L336.35,296.87 L336.56,297.41 L336.76,297.93 L336.97,298.42 L337.18,298.89 L337.39,299.33 L337.60,299.76 L337.81,300.17 L338.01,300.56 L338.22,300.93 L338.43,301.29 L338.64,301.64 L338.85,301.98 L339.06,302.32 L339.26,302.64 L339.47,302.97 L339.68,303.29 L339.89,303.62 L340.10,303.94 L340.31,304.27 L340.51,304.60 L340.72,304.94 L340.93,305.27 L341.14,305.61 L341.35,305.96 L341.55,306.30 L341.76,306.64 L341.97,306.98 L342.18,307.31 L342.39,307.64 L342.60,307.96 L342.80,308.28 L343.01,308.60 L343.22,308.90 L343.43,309.21 L343.64,309.51 L343.85,309.80 L344.05,310.09 L344.26,310.37 L344.47,310.65 L344.68,310.93 L344.89,311.20 L345.10,311.47 L345.30,311.74 L345.51,312.00 L345.72,312.26 L345.93,312.52 L346.14,312.77 L346.35,313.03 L346.55,313.27 L346.76,313.52 L346.97,313.77 L347.18,314.01 L347.39,314.25 L347.60,314.48 L347.80,314.72 L348.01,314.95 L348.22,315.18 L348.43,315.41 L348.64,315.64 L348.85,315.86 L349.05,316.08 L349.26,316.30 L349.47,316.52 L349.68,316.73 L349.89,316.95 L350.10,317.16 L350.30,317.37 L350.51,317.57 L350.72,317.78 L350.93,317.98 L351.14,318.18 L351.35,318.38 L351.55,318.58 L351.76,318.77 L351.97,318.97 L352.18,319.16 L352.39,319.35 L352.59,319.54 L352.80,319.72 L353.01,319.91 L353.22,320.09 L353.43,320.28 L353.64,320.46 L353.84,320.64 L354.05,320.82 L354.26,321.00 L354.47,321.17 L354.68,321.35 L354.89,321.53 L355.09,321.70 L355.30,321.87 L355.51,322.05 L355.72,322.22 L355.93,322.39 L356.14,322.57 L356.34,322.74 L356.55,322.91 L356.76,323.08 L356.97,323.25 L357.18,323.41 L357.39,323.58 L357.59,323.75 L357.80,323.92 L358.01,324.08 L358.22,324.25 L358.43,324.41 L358.64,324.57 L358.84,324.74 L359.05,324.90 L359.26,325.06 L359.47,325.22 L359.68,325.37 L359.89,325.53 L360.09,325.69 L360.30,325.84 L360.51,325.99 L360.72,326.15 L360.93,326.30 L361.14,326.44 L361.34,326.59 L361.55,326.74 L361.76,326.89 L361.97,327.03 L362.18,327.17 L362.38,327.31 L362.59,327.45 L362.80,327.59 L363.01,327.73 L363.22,327.86 L363.43,328.00 L363.63,328.13 L363.84,328.27 L364.05,328.40 L364.26,328.53 L364.47,328.66 L364.68,328.79 L364.88,328.91 L365.09,329.04 L365.30,329.17 L365.51,329.29 L365.72,329.41 L365.93,329.54 L366.13,329.66 L366.34,329.78 L366.55,329.90 L366.76,330.02 L366.97,330.13 L367.18,330.25 L367.38,330.37 L367.59,330.48 L367.80,330.60 L368.01,330.71 L368.22,330.82 L368.43,330.94 L368.63,331.05 L368.84,331.16 L369.05,331.27 L369.26,331.39 L369.47,331.50 L369.68,331.61 L369.88,331.72 L370.09,331.83 L370.30,331.95 L370.51,332.06 L370.72,332.17 L370.93,332.29 L371.13,332.40 L371.34,332.52 L371.55,332.63 L371.76,332.75 L371.97,332.86 L372.18,332.98 L372.38,333.10 L372.59,333.22 L372.80,333.34 L373.01,333.46 L373.22,333.58 L373.42,333.71 L373.63,333.83 L373.84,333.96 L374.05,334.08 L374.26,334.21 L374.47,334.33 L374.67,334.46 L374.88,334.59 L375.09,334.72 L375.30,334.85 L375.51,334.98 L375.72,335.11 L375.92,335.24 L376.13,335.37 L376.34,335.50 L376.55,335.63 L376.76,335.76 L376.97,335.89 L377.17,336.03 L377.38,336.16 L377.59,336.29 L377.80,336.42 L378.01,336.56 L378.22,336.69 L378.42,336.82 L378.63,336.96 L378.84,337.09 L379.05,337.22 L379.26,337.36 L379.47,337.49 L379.67,337.62 L379.88,337.75 L380.09,337.89 L380.30,338.02 L380.51,338.15 L380.72,338.29 L380.92,338.42 L381.13,338.55 L381.34,338.68 L381.55,338.82 L381.76,338.95 L381.97,339.08 L382.17,339.21 L382.38,339.35 L382.59,339.48 L382.80,339.61 L383.01,339.75 L383.21,339.88 L383.42,340.01 L383.63,340.15 L383.84,340.28 L384.05,340.42 L384.26,340.55 L384.46,340.69 L384.67,340.82 L384.88,340.96 L385.09,341.10 L385.30,341.24 L385.51,341.38 L385.71,341.52 L385.92,341.66 L386.13,341.80 L386.34,341.94 L386.55,342.09 L386.76,342.24 L386.96,342.38 L387.17,342.53 L387.38,342.68 L387.59,342.83 L387.80,342.98 L388.01,343.14 L388.21,343.29 L388.42,343.45 L388.63,343.61 L388.84,343.76 L389.05,343.92 L389.26,344.08 L389.46,344.25 L389.67,344.41 L389.88,344.57 L390.09,344.74 L390.30,344.90 L390.51,345.07 L390.71,345.23 L390.92,345.40 L391.13,345.56 L391.34,345.73 L391.55,345.90 L391.76,346.06 L391.96,346.23 L392.17,346.40 L392.38,346.56 L392.59,346.73 L392.80,346.89 L393.00,347.05 L393.21,347.21 L393.42,347.38 L393.63,347.54 L393.84,347.70 L394.05,347.85 L394.25,348.01 L394.46,348.17 L394.67,348.32 L394.88,348.47 L395.09,348.62 L395.30,348.77 L395.50,348.92 L395.71,349.07 L395.92,349.21 L396.13,349.36 L396.34,349.50 L396.55,349.64 L396.75,349.78 L396.96,349.92 L397.17,350.05 L397.38,350.19 L397.59,350.32 L397.80,350.45 L398.00,350.58 L398.21,350.71 L398.42,350.84 L398.63,350.97 L398.84,351.10 L399.05,351.22 L399.25,351.35 L399.46,351.47 L399.67,351.60 L399.88,351.72 L400.09,351.84 L400.30,351.96 L400.50,352.08 L400.71,352.20 L400.92,352.32 L401.13,352.44 L401.34,352.56 L401.55,352.68 L401.75,352.80 L401.96,352.92 L402.17,353.03 L402.38,353.15 L402.59,353.27 L402.80,353.39 L403.00,353.50 L403.21,353.62 L403.42,353.74 L403.63,353.86 L403.84,353.97 L404.04,354.09 L404.25,354.21 L404.46,354.32 L404.67,354.44 L404.88,354.56 L405.09,354.67 L405.29,354.79 L405.50,354.91 L405.71,355.02 L405.92,355.14 L406.13,355.26 L406.34,355.37 L406.54,355.49 L406.75,355.61 L406.96,355.72 L407.17,355.84 L407.38,355.95 L407.59,356.07 L407.79,356.18 L408.00,356.30 L408.21,356.41 L408.42,356.52 L408.63,356.64 L408.84,356.75 L409.04,356.86 L409.25,356.98 L409.46,357.09 L409.67,357.20 L409.88,357.31 L410.09,357.42 L410.29,357.53 L410.50,357.64 L410.71,357.75 L410.92,357.86 L411.13,357.96 L411.34,358.07 L411.54,358.18 L411.75,358.28 L411.96,358.39 L412.17,358.50 L412.38,358.60 L412.59,358.70 L412.79,358.81 L413.00,358.91 L413.21,359.01 L413.42,359.11 L413.63,359.21 L413.84,359.31 L414.04,359.41 L414.25,359.51 L414.46,359.61 L414.67,359.71 L414.88,359.81 L415.08,359.90 L415.29,360.00 L415.50,360.10 L415.71,360.19 L415.92,360.29 L416.13,360.38 L416.33,360.48 L416.54,360.57 L416.75,360.66 L416.96,360.76 L417.17,360.85 L417.38,360.94 L417.58,361.03 L417.79,361.13 L418.00,361.22 L418.21,361.31 L418.42,361.40 L418.63,361.49 L418.83,361.58 L419.04,361.67 L419.25,361.76 L419.46,361.85 L419.67,361.93 L419.88,362.02 L420.08,362.11 L420.29,362.20 L420.50,362.28 L420.71,362.37 L420.92,362.46 L421.13,362.54 L421.33,362.63 L421.54,362.72 L421.75,362.80 L421.96,362.89 L422.17,362.97 L422.38,363.06 L422.58,363.14 L422.79,363.23 L423.00,363.31 L423.21,363.40 L423.42,363.48 L423.63,363.56 L423.83,363.65 L424.04,363.73 L424.25,363.81 L424.46,363.89 L424.67,363.98 L424.87,364.06 L425.08,364.14 L425.29,364.22 L425.50,364.30 L425.71,364.38 L425.92,364.46 L426.12,364.55 L426.33,364.63 L426.54,364.70 L426.75,364.78 L426.96,364.86 L427.17,364.94 L427.37,365.02 L427.58,365.10 L427.79,365.18 L428.00,365.25 L428.21,365.33 L428.42,365.41 L428.62,365.48 L428.83,365.56 L429.04,365.63 L429.25,365.71 L429.46,365.78 L429.67,365.85 L429.87,365.93 L430.08,366.00 L430.29,366.07 L430.50,366.14 L430.71,366.21 L430.92,366.28 L431.12,366.35 L431.33,366.42 L431.54,366.49 L431.75,366.56 L431.96,366.63 L432.17,366.69 L432.37,366.76 L432.58,366.83 L432.79,366.89 L433.00,366.96 L433.21,367.02 L433.42,367.08 L433.62,367.15 L433.83,367.21 L434.04,367.27 L434.25,367.33 L434.46,367.39 L434.66,367.45 L434.87,367.51 L435.08,367.57 L435.29,367.63 L435.50,367.68 L435.71,367.74 L435.91,367.80 L436.12,367.85 L436.33,367.91 L436.54,367.96 L436.75,368.01 L436.96,368.07 L437.16,368.12 L437.37,368.17 L437.58,368.22 L437.79,368.27 L438.00,368.33 L438.21,368.38 L438.41,368.43 L438.62,368.48 L438.83,368.53 L439.04,368.57 L439.25,368.62 L439.46,368.67 L439.66,368.72 L439.87,368.77 L440.08,368.81 L440.29,368.86 L440.50,368.91 L440.71,368.96 L440.91,369.00 L441.12,369.05 L441.33,369.10 L441.54,369.14 L441.75,369.19 L441.96,369.23 L442.16,369.28 L442.37,369.33 L442.58,369.37 L442.79,369.42 L443.00,369.46 L443.21,369.51 L443.41,369.55 L443.62,369.60 L443.83,369.65 L444.04,369.69 L444.25,369.74 L444.46,369.79 L444.66,369.83 L444.87,369.88 L445.08,369.93 L445.29,369.97 L445.50,370.02 L445.70,370.07 L445.91,370.11 L446.12,370.16 L446.33,370.21 L446.54,370.26 L446.75,370.30 L446.95,370.35 L447.16,370.40 L447.37,370.45 L447.58,370.50 L447.79,370.55 L448.00,370.60 L448.20,370.65 L448.41,370.70 L448.62,370.75 L448.83,370.80 L449.04,370.85 L449.25,370.90 L449.45,370.95 L449.66,371.00 L449.87,371.05 L450.08,371.10 L450.29,371.15 L450.50,371.21 L450.70,371.26 L450.91,371.31 L451.12,371.36 L451.33,371.42 L451.54,371.47 L451.75,371.52 L451.95,371.58 L452.16,371.63 L452.37,371.69 L452.58,371.74 L452.79,371.79 L453.00,371.85 L453.20,371.90 L453.41,371.96 L453.62,372.01 L453.83,372.07 L454.04,372.13 L454.25,372.18 L454.45,372.24 L454.66,372.29 L454.87,372.35 L455.08,372.41 L455.29,372.47 L455.50,372.52 L455.70,372.58 L455.91,372.64 L456.12,372.70 L456.33,372.75 L456.54,372.81 L456.74,372.87 L456.95,372.93 L457.16,372.99 L457.37,373.05 L457.58,373.10 L457.79,373.16 L457.99,373.22 L458.20,373.28 L458.41,373.34 L458.62,373.40 L458.83,373.46 L459.04,373.52 L459.24,373.58 L459.45,373.64 L459.66,373.70 L459.87,373.76 L460.08,373.83 L460.29,373.89 L460.49,373.95 L460.70,374.01 L460.91,374.07 L461.12,374.13 L461.33,374.20 L461.54,374.26 L461.74,374.32 L461.95,374.38 L462.16,374.45 L462.37,374.51 L462.58,374.57 L462.79,374.64 L462.99,374.70 L463.20,374.76 L463.41,374.83 L463.62,374.89 L463.83,374.95 L464.04,375.02 L464.24,375.08 L464.45,375.15 L464.66,375.21 L464.87,375.28 L465.08,375.34 L465.29,375.41 L465.49,375.47 L465.70,375.54 L465.91,375.61 L466.12,375.67 L466.33,375.74 L466.53,375.80 L466.74,375.87 L466.95,375.94 L467.16,376.00 L467.37,376.07 L467.58,376.14 L467.78,376.20 L467.99,376.27 L468.20,376.34 L468.41,376.41 L468.62,376.47 L468.83,376.54 L469.03,376.61 L469.24,376.68 L469.45,376.75 L469.66,376.81 L469.87,376.88 L470.08,376.95 L470.28,377.02 L470.49,377.09 L470.70,377.16 L470.91,377.22 L471.12,377.29 L471.33,377.36 L471.53,377.43 L471.74,377.50 L471.95,377.57 L472.16,377.63 L472.37,377.70 L472.58,377.77 L472.78,377.84 L472.99,377.91 L473.20,377.98 L473.41,378.04 L473.62,378.11 L473.83,378.18 L474.03,378.25 L474.24,378.32 L474.45,378.38 L474.66,378.45 L474.87,378.52 L475.08,378.58 L475.28,378.65 L475.49,378.72 L475.70,378.78 L475.91,378.85 L476.12,378.92 L476.32,378.98 L476.53,379.05 L476.74,379.11 L476.95,379.18 L477.16,379.24 L477.37,379.31 L477.57,379.37 L477.78,379.44 L477.99,379.50 L478.20,379.56 L478.41,379.63 L478.62,379.69 L478.82,379.75 L479.03,379.81 L479.24,379.87 L479.45,379.93 L479.66,380.00 L479.87,380.06 L480.07,380.12 L480.28,380.18 L480.49,380.23 L480.70,380.29 L480.91,380.35 L481.12,380.41 L481.32,380.47 L481.53,380.52 L481.74,380.58 L481.95,380.64 L482.16,380.69 L482.37,380.75 L482.57,380.80 L482.78,380.86 L482.99,380.91 L483.20,380.97 L483.41,381.02 L483.62,381.07 L483.82,381.12 L484.03,381.17 L484.24,381.23 L484.45,381.28 L484.66,381.33 L484.87,381.38 L485.07,381.43 L485.28,381.48 L485.49,381.52 L485.70,381.57 L485.91,381.62 L486.12,381.67 L486.32,381.71 L486.53,381.76 L486.74,381.81 L486.95,381.85 L487.16,381.90 L487.36,381.94 L487.57,381.98 L487.78,382.03 L487.99,382.07 L488.20,382.11 L488.41,382.16 L488.61,382.20 L488.82,382.24 L489.03,382.28 L489.24,382.32 L489.45,382.36 L489.66,382.40 L489.86,382.44 L490.07,382.48 L490.28,382.52 L490.49,382.56 L490.70,382.60 L490.91,382.63 L491.11,382.67 L491.32,382.71 L491.53,382.74 L491.74,382.78 L491.95,382.82 L492.16,382.85 L492.36,382.89 L492.57,382.92 L492.78,382.96 L492.99,382.99 L493.20,383.03 L493.41,383.06 L493.61,383.09 L493.82,383.13 L494.03,383.16 L494.24,383.19 L494.45,383.23 L494.66,383.26 L494.86,383.29 L495.07,383.32 L495.28,383.36 L495.49,383.39 L495.70,383.42 L495.91,383.45 L496.11,383.48 L496.32,383.51 L496.53,383.54 L496.74,383.57 L496.95,383.60 L497.15,383.63 L497.36,383.66 L497.57,383.69 L497.78,383.72 L497.99,383.75 L498.20,383.78 L498.40,383.81 L498.61,383.84 L498.82,383.87 L499.03,383.90 L499.24,383.93 L499.45,383.96 L499.65,383.99 L499.86,384.02 L500.07,384.04 L500.28,384.07 L500.49,384.10 L500.70,384.13 L500.90,384.16 L501.11,384.19 L501.32,384.21 L501.53,384.24 L501.74,384.27 L501.95,384.30 L502.15,384.32 L502.36,384.35 L502.57,384.38 L502.78,384.41 L502.99,384.44 L503.20,384.46 L503.40,384.49 L503.61,384.52 L503.82,384.55 L504.03,384.57 L504.24,384.60 L504.45,384.63 L504.65,384.65 L504.86,384.68 L505.07,384.71 L505.28,384.74 L505.49,384.76 L505.70,384.79 L505.90,384.82 L506.11,384.85 L506.32,384.87 L506.53,384.90 L506.74,384.93 L506.95,384.96 L507.15,384.98 L507.36,385.01 L507.57,385.04 L507.78,385.06 L507.99,385.09 L508.19,385.12 L508.40,385.15 L508.61,385.17 L508.82,385.20 L509.03,385.23 L509.24,385.25 L509.44,385.28 L509.65,385.31 L509.86,385.34 L510.07,385.36 L510.28,385.39 L510.49,385.42 L510.69,385.45 L510.90,385.47 L511.11,385.50 L511.32,385.53 L511.53,385.55 L511.74,385.58 L511.94,385.61 L512.15,385.64 L512.36,385.66 L512.57,385.69 L512.78,385.72 L512.99,385.75 L513.19,385.77 L513.40,385.80 L513.61,385.83 L513.82,385.86 L514.03,385.88 L514.24,385.91 L514.44,385.94 L514.65,385.97 L514.86,385.99 L515.07,386.02 L515.28,386.05 L515.49,386.08 L515.69,386.10 L515.90,386.13 L516.11,386.16 L516.32,386.19 L516.53,386.21 L516.74,386.24 L516.94,386.27 L517.15,386.30 L517.36,386.32 L517.57,386.35 L517.78,386.38 L517.99,386.41 L518.19,386.43 L518.40,386.46 L518.61,386.49 L518.82,386.52 L519.03,386.55 L519.23,386.57 L519.44,386.60 L519.65,386.63 L519.86,386.66 L520.07,386.68 L520.28,386.71 L520.48,386.74 L520.69,386.77 L520.90,386.79 L521.11,386.82 L521.32,386.85 L521.53,386.88 L521.73,386.90 L521.94,386.93 L522.15,386.96 L522.36,386.99 L522.57,387.02 L522.78,387.04 L522.98,387.07 L523.19,387.10 L523.40,387.13 L523.61,387.15 L523.82,387.18 L524.03,387.21 L524.23,387.24 L524.44,387.26 L524.65,387.29 L524.86,387.32 L525.07,387.35 L525.28,387.38 L525.48,387.40 L525.69,387.43 L525.90,387.46 L526.11,387.49 L526.32,387.51 L526.53,387.54 L526.73,387.57 L526.94,387.60 L527.15,387.62 L527.36,387.65 L527.57,387.68 L527.78,387.71 L527.98,387.74 L528.19,387.76 L528.40,387.79" fill="none" stroke="#1e9cff" stroke-width="1.1" stroke-linejoin="round" marker-start="url(#mb)" marker-mid="url(#mb)" marker-end="url(#mb)"/>
<path d="M320.31,35.52 L320.52,133.93 L320.72,141.99 L320.93,180.13 L321.14,190.75 L321.35,196.45 L321.56,200.45 L321.77,203.65 L321.97,206.05 L322.18,208.52 L322.39,212.35 L322.60,217.29 L322.81,222.58 L323.02,227.50 L323.22,231.31 L323.43,234.11 L323.64,236.55 L323.85,238.71 L324.06,240.67 L324.27,242.53 L324.47,244.26 L324.68,245.84 L324.89,247.32 L325.10,248.75 L325.31,250.19 L325.52,251.70 L325.72,253.30 L325.93,254.95 L326.14,256.64 L326.35,258.36 L326.56,260.09 L326.77,261.81 L326.97,263.51 L327.18,265.17 L327.39,266.78 L327.60,268.33 L327.81,269.79 L328.02,271.18 L328.22,272.46 L328.43,273.66 L328.64,274.79 L328.85,275.87 L329.06,276.90 L329.27,277.90 L329.47,278.90 L329.68,279.88 L329.89,280.86 L330.10,281.83 L330.31,282.81 L330.52,283.78 L330.72,284.74 L330.93,285.72 L331.14,286.69 L331.35,287.67 L331.56,288.67 L331.76,289.68 L331.97,290.69 L332.18,291.72 L332.39,292.74 L332.60,293.75 L332.81,294.73 L333.01,295.66 L333.22,296.55 L333.43,297.40 L333.64,298.20 L333.85,298.95 L334.06,299.68 L334.26,300.37 L334.47,301.03 L334.68,301.67 L334.89,302.30 L335.10,302.91 L335.31,303.50 L335.51,304.07 L335.72,304.63 L335.93,305.17 L336.14,305.70 L336.35,306.20 L336.56,306.69 L336.76,307.17 L336.97,307.62 L337.18,308.06 L337.39,308.48 L337.60,308.88 L337.81,309.26 L338.01,309.63 L338.22,309.97 L338.43,310.29 L338.64,310.60 L338.85,310.89 L339.06,311.17 L339.26,311.43 L339.47,311.68 L339.68,311.92 L339.89,312.16 L340.10,312.39 L340.31,312.63 L340.51,312.87 L340.72,313.11 L340.93,313.36 L341.14,313.62 L341.35,313.89 L341.55,314.16 L341.76,314.44 L341.97,314.73 L342.18,315.02 L342.39,315.31 L342.60,315.61 L342.80,315.92 L343.01,316.22 L343.22,316.52 L343.43,316.83 L343.64,317.13 L343.85,317.43 L344.05,317.73 L344.26,318.02 L344.47,318.31 L344.68,318.60 L344.89,318.87 L345.10,319.15 L345.30,319.41 L345.51,319.67 L345.72,319.92 L345.93,320.17 L346.14,320.41 L346.35,320.64 L346.55,320.88 L346.76,321.10 L346.97,321.32 L347.18,321.54 L347.39,321.75 L347.60,321.96 L347.80,322.17 L348.01,322.38 L348.22,322.58 L348.43,322.78 L348.64,322.97 L348.85,323.17 L349.05,323.36 L349.26,323.55 L349.47,323.75 L349.68,323.93 L349.89,324.12 L350.10,324.31 L350.30,324.50 L350.51,324.68 L350.72,324.87 L350.93,325.06 L351.14,325.24 L351.35,325.43 L351.55,325.62 L351.76,325.80 L351.97,325.99 L352.18,326.18 L352.39,326.37 L352.59,326.56 L352.80,326.75 L353.01,326.95 L353.22,327.14 L353.43,327.34 L353.64,327.53 L353.84,327.73 L354.05,327.92 L354.26,328.12 L354.47,328.31 L354.68,328.50 L354.89,328.70 L355.09,328.89 L355.30,329.08 L355.51,329.26 L355.72,329.45 L355.93,329.63 L356.14,329.80 L356.34,329.97 L356.55,330.14 L356.76,330.31 L356.97,330.47 L357.18,330.62 L357.39,330.77 L357.59,330.91 L357.80,331.05 L358.01,331.19 L358.22,331.32 L358.43,331.44 L358.64,331.56 L358.84,331.68 L359.05,331.79 L359.26,331.90 L359.47,332.01 L359.68,332.11 L359.89,332.21 L360.09,332.31 L360.30,332.41 L360.51,332.50 L360.72,332.60 L360.93,332.69 L361.14,332.79 L361.34,332.88 L361.55,332.98 L361.76,333.07 L361.97,333.17 L362.18,333.26 L362.38,333.36 L362.59,333.46 L362.80,333.56 L363.01,333.65 L363.22,333.75 L363.43,333.86 L363.63,333.96 L363.84,334.06 L364.05,334.16 L364.26,334.27 L364.47,334.37 L364.68,334.48 L364.88,334.59 L365.09,334.69 L365.30,334.80 L365.51,334.91 L365.72,335.02 L365.93,335.13 L366.13,335.24 L366.34,335.35 L366.55,335.46 L366.76,335.58 L366.97,335.69 L367.18,335.80 L367.38,335.91 L367.59,336.03 L367.80,336.14 L368.01,336.26 L368.22,336.37 L368.43,336.48 L368.63,336.60 L368.84,336.71 L369.05,336.83 L369.26,336.94 L369.47,337.06 L369.68,337.18 L369.88,337.29 L370.09,337.41 L370.30,337.52 L370.51,337.64 L370.72,337.75 L370.93,337.87 L371.13,337.99 L371.34,338.10 L371.55,338.22 L371.76,338.33 L371.97,338.45 L372.18,338.57 L372.38,338.68 L372.59,338.80 L372.80,338.91 L373.01,339.03 L373.22,339.14 L373.42,339.26 L373.63,339.37 L373.84,339.49 L374.05,339.60 L374.26,339.71 L374.47,339.82 L374.67,339.93 L374.88,340.04 L375.09,340.14 L375.30,340.25 L375.51,340.36 L375.72,340.46 L375.92,340.56 L376.13,340.66 L376.34,340.76 L376.55,340.85 L376.76,340.95 L376.97,341.04 L377.17,341.13 L377.38,341.22 L377.59,341.31 L377.80,341.40 L378.01,341.48 L378.22,341.57 L378.42,341.65 L378.63,341.73 L378.84,341.81 L379.05,341.89 L379.26,341.97 L379.47,342.04 L379.67,342.12 L379.88,342.20 L380.09,342.27 L380.30,342.35 L380.51,342.42 L380.72,342.49 L380.92,342.57 L381.13,342.64 L381.34,342.71 L381.55,342.79 L381.76,342.86 L381.97,342.93 L382.17,343.01 L382.38,343.08 L382.59,343.16 L382.80,343.23 L383.01,343.31 L383.21,343.38 L383.42,343.46 L383.63,343.54 L383.84,343.61 L384.05,343.69 L384.26,343.77 L384.46,343.84 L384.67,343.92 L384.88,344.00 L385.09,344.08 L385.30,344.16 L385.51,344.23 L385.71,344.31 L385.92,344.39 L386.13,344.47 L386.34,344.55 L386.55,344.63 L386.76,344.71 L386.96,344.79 L387.17,344.87 L387.38,344.94 L387.59,345.02 L387.80,345.10 L388.01,345.18 L388.21,345.26 L388.42,345.34 L388.63,345.41 L388.84,345.49 L389.05,345.57 L389.26,345.65 L389.46,345.72 L389.67,345.80 L389.88,345.88 L390.09,345.95 L390.30,346.03 L390.51,346.11 L390.71,346.18 L390.92,346.26 L391.13,346.33 L391.34,346.41 L391.55,346.48 L391.76,346.56 L391.96,346.63 L392.17,346.71 L392.38,346.78 L392.59,346.85 L392.80,346.93 L393.00,347.00 L393.21,347.08 L393.42,347.15 L393.63,347.22 L393.84,347.30 L394.05,347.37 L394.25,347.44 L394.46,347.51 L394.67,347.59 L394.88,347.66 L395.09,347.73 L395.30,347.81 L395.50,347.88 L395.71,347.95 L395.92,348.02 L396.13,348.10 L396.34,348.17 L396.55,348.24 L396.75,348.31 L396.96,348.38 L397.17,348.45 L397.38,348.53 L397.59,348.60 L397.80,348.67 L398.00,348.74 L398.21,348.81 L398.42,348.88 L398.63,348.95 L398.84,349.02 L399.05,349.09 L399.25,349.16 L399.46,349.23 L399.67,349.30 L399.88,349.36 L400.09,349.43 L400.30,349.50 L400.50,349.56 L400.71,349.63 L400.92,349.70 L401.13,349.76 L401.34,349.83 L401.55,349.89 L401.75,349.95 L401.96,350.02 L402.17,350.08 L402.38,350.14 L402.59,350.20 L402.80,350.26 L403.00,350.32 L403.21,350.38 L403.42,350.44 L403.63,350.50 L403.84,350.56 L404.04,350.61 L404.25,350.67 L404.46,350.73 L404.67,350.78 L404.88,350.83 L405.09,350.89 L405.29,350.94 L405.50,350.99 L405.71,351.05 L405.92,351.10 L406.13,351.15 L406.34,351.20 L406.54,351.25 L406.75,351.30 L406.96,351.35 L407.17,351.40 L407.38,351.44 L407.59,351.49 L407.79,351.54 L408.00,351.58 L408.21,351.63 L408.42,351.68 L408.63,351.72 L408.84,351.77 L409.04,351.81 L409.25,351.85 L409.46,351.90 L409.67,351.94 L409.88,351.99 L410.09,352.03 L410.29,352.07 L410.50,352.11 L410.71,352.16 L410.92,352.20 L411.13,352.24 L411.34,352.28 L411.54,352.32 L411.75,352.36 L411.96,352.40 L412.17,352.44 L412.38,352.48 L412.59,352.52 L412.79,352.56 L413.00,352.60 L413.21,352.64 L413.42,352.68 L413.63,352.72 L413.84,352.76 L414.04,352.80 L414.25,352.84 L414.46,352.88 L414.67,352.92 L414.88,352.96 L415.08,353.00 L415.29,353.04 L415.50,353.08 L415.71,353.11 L415.92,353.15 L416.13,353.19 L416.33,353.23 L416.54,353.27 L416.75,353.31 L416.96,353.35 L417.17,353.38 L417.38,353.42 L417.58,353.46 L417.79,353.50 L418.00,353.54 L418.21,353.58 L418.42,353.62 L418.63,353.65 L418.83,353.69 L419.04,353.73 L419.25,353.77 L419.46,353.81 L419.67,353.85 L419.88,353.88 L420.08,353.92 L420.29,353.96 L420.50,354.00 L420.71,354.04 L420.92,354.08 L421.13,354.11 L421.33,354.15 L421.54,354.19 L421.75,354.23 L421.96,354.27 L422.17,354.31 L422.38,354.34 L422.58,354.38 L422.79,354.42 L423.00,354.46 L423.21,354.50 L423.42,354.54 L423.63,354.57 L423.83,354.61 L424.04,354.65 L424.25,354.69 L424.46,354.73 L424.67,354.77 L424.87,354.80 L425.08,354.84 L425.29,354.88 L425.50,354.92 L425.71,354.96 L425.92,354.99 L426.12,355.03 L426.33,355.07 L426.54,355.11 L426.75,355.15 L426.96,355.19 L427.17,355.22 L427.37,355.26 L427.58,355.30 L427.79,355.34 L428.00,355.38 L428.21,355.41 L428.42,355.45 L428.62,355.49 L428.83,355.53 L429.04,355.56 L429.25,355.60 L429.46,355.64 L429.67,355.68 L429.87,355.72 L430.08,355.75 L430.29,355.79 L430.50,355.83 L430.71,355.86 L430.92,355.90 L431.12,355.94 L431.33,355.98 L431.54,356.01 L431.75,356.05 L431.96,356.09 L432.17,356.12 L432.37,356.16 L432.58,356.20 L432.79,356.23 L433.00,356.27 L433.21,356.30 L433.42,356.34 L433.62,356.38 L433.83,356.41 L434.04,356.45 L434.25,356.48 L434.46,356.52 L434.66,356.55 L434.87,356.59 L435.08,356.62 L435.29,356.66 L435.50,356.69 L435.71,356.73 L435.91,356.76 L436.12,356.79 L436.33,356.83 L436.54,356.86 L436.75,356.89 L436.96,356.93 L437.16,356.96 L437.37,356.99 L437.58,357.02 L437.79,357.06 L438.00,357.09 L438.21,357.12 L438.41,357.15 L438.62,357.18 L438.83,357.21 L439.04,357.24 L439.25,357.27 L439.46,357.30 L439.66,357.33 L439.87,357.36 L440.08,357.39 L440.29,357.42 L440.50,357.45 L440.71,357.48 L440.91,357.51 L441.12,357.54 L441.33,357.57 L441.54,357.59 L441.75,357.62 L441.96,357.65 L442.16,357.67 L442.37,357.70 L442.58,357.73 L442.79,357.75 L443.00,357.78 L443.21,357.81 L443.41,357.83 L443.62,357.86 L443.83,357.88 L444.04,357.91 L444.25,357.93 L444.46,357.95 L444.66,357.98 L444.87,358.00 L445.08,358.03 L445.29,358.05 L445.50,358.07 L445.70,358.09 L445.91,358.12 L446.12,358.14 L446.33,358.16 L446.54,358.18 L446.75,358.20 L446.95,358.23 L447.16,358.25 L447.37,358.27 L447.58,358.29 L447.79,358.31 L448.00,358.33 L448.20,358.35 L448.41,358.37 L448.62,358.39 L448.83,358.41 L449.04,358.43 L449.25,358.45 L449.45,358.47 L449.66,358.49 L449.87,358.51 L450.08,358.52 L450.29,358.54 L450.50,358.56 L450.70,358.58 L450.91,358.60 L451.12,358.62 L451.33,358.63 L451.54,358.65 L451.75,358.67 L451.95,358.69 L452.16,358.70 L452.37,358.72 L452.58,358.74 L452.79,358.75 L453.00,358.77 L453.20,358.79 L453.41,358.80 L453.62,358.82 L453.83,358.84 L454.04,358.85 L454.25,358.87 L454.45,358.89 L454.66,358.90 L454.87,358.92 L455.08,358.93 L455.29,358.95 L455.50,358.96 L455.70,358.98 L455.91,359.00 L456.12,359.01 L456.33,359.03 L456.54,359.04 L456.74,359.06 L456.95,359.07 L457.16,359.09 L457.37,359.10 L457.58,359.12 L457.79,359.13 L457.99,359.15 L458.20,359.16 L458.41,359.18 L458.62,359.19 L458.83,359.21 L459.04,359.22 L459.24,359.24 L459.45,359.25 L459.66,359.26 L459.87,359.28 L460.08,359.29 L460.29,359.31 L460.49,359.32 L460.70,359.34 L460.91,359.35 L461.12,359.36 L461.33,359.38 L461.54,359.39 L461.74,359.41 L461.95,359.42 L462.16,359.43 L462.37,359.45 L462.58,359.46 L462.79,359.48 L462.99,359.49 L463.20,359.51 L463.41,359.52 L463.62,359.53 L463.83,359.55 L464.04,359.56 L464.24,359.57 L464.45,359.59 L464.66,359.60 L464.87,359.62 L465.08,359.63 L465.29,359.64 L465.49,359.66 L465.70,359.67 L465.91,359.68 L466.12,359.70 L466.33,359.71 L466.53,359.73 L466.74,359.74 L466.95,359.75 L467.16,359.77 L467.37,359.78 L467.58,359.79 L467.78,359.81 L467.99,359.82 L468.20,359.83 L468.41,359.85 L468.62,359.86 L468.83,359.87 L469.03,359.89 L469.24,359.90 L469.45,359.91 L469.66,359.93 L469.87,359.94 L470.08,359.95 L470.28,359.97 L470.49,359.98 L470.70,359.99 L470.91,360.01 L471.12,360.02 L471.33,360.03 L471.53,360.05 L471.74,360.06 L471.95,360.07 L472.16,360.09 L472.37,360.10 L472.58,360.11 L472.78,360.13 L472.99,360.14 L473.20,360.15 L473.41,360.17 L473.62,360.18 L473.83,360.19 L474.03,360.21 L474.24,360.22 L474.45,360.23 L474.66,360.25 L474.87,360.26 L475.08,360.27 L475.28,360.28 L475.49,360.30 L475.70,360.31 L475.91,360.32 L476.12,360.34 L476.32,360.35 L476.53,360.36 L476.74,360.38 L476.95,360.39 L477.16,360.40 L477.37,360.42 L477.57,360.43 L477.78,360.44 L477.99,360.46 L478.20,360.47 L478.41,360.48 L478.62,360.49 L478.82,360.51 L479.03,360.52 L479.24,360.53 L479.45,360.55 L479.66,360.56 L479.87,360.57 L480.07,360.59 L480.28,360.60 L480.49,360.61 L480.70,360.63 L480.91,360.64 L481.12,360.65 L481.32,360.66 L481.53,360.68 L481.74,360.69 L481.95,360.70 L482.16,360.72 L482.37,360.73 L482.57,360.74 L482.78,360.76 L482.99,360.77 L483.20,360.78 L483.41,360.80 L483.62,360.81 L483.82,360.82 L484.03,360.84 L484.24,360.85 L484.45,360.86 L484.66,360.88 L484.87,360.89 L485.07,360.90 L485.28,360.92 L485.49,360.93 L485.70,360.94 L485.91,360.96 L486.12,360.97 L486.32,360.98 L486.53,361.00 L486.74,361.01 L486.95,361.02 L487.16,361.04 L487.36,361.05 L487.57,361.06 L487.78,361.08 L487.99,361.09 L488.20,361.10 L488.41,361.12 L488.61,361.13 L488.82,361.14 L489.03,361.16 L489.24,361.17 L489.45,361.18 L489.66,361.20 L489.86,361.21 L490.07,361.22 L490.28,361.24 L490.49,361.25 L490.70,361.26 L490.91,361.28 L491.11,361.29 L491.32,361.31 L491.53,361.32 L491.74,361.33 L491.95,361.35 L492.16,361.36 L492.36,361.37 L492.57,361.39 L492.78,361.40 L492.99,361.41 L493.20,361.43 L493.41,361.44 L493.61,361.46 L493.82,361.47 L494.03,361.48 L494.24,361.50 L494.45,361.51 L494.66,361.52 L494.86,361.54 L495.07,361.55 L495.28,361.57 L495.49,361.58 L495.70,361.59 L495.91,361.61 L496.11,361.62 L496.32,361.63 L496.53,361.65 L496.74,361.66 L496.95,361.68 L497.15,361.69 L497.36,361.70 L497.57,361.72 L497.78,361.73 L497.99,361.75 L498.20,361.76 L498.40,361.77 L498.61,361.79 L498.82,361.80 L499.03,361.82 L499.24,361.83 L499.45,361.84 L499.65,361.86 L499.86,361.87 L500.07,361.88 L500.28,361.90 L500.49,361.91 L500.70,361.93 L500.90,361.94 L501.11,361.95 L501.32,361.97 L501.53,361.98 L501.74,362.00 L501.95,362.01 L502.15,362.02 L502.36,362.04 L502.57,362.05 L502.78,362.07 L502.99,362.08 L503.20,362.09 L503.40,362.11 L503.61,362.12 L503.82,362.14 L504.03,362.15 L504.24,362.16 L504.45,362.18 L504.65,362.19 L504.86,362.21 L505.07,362.22 L505.28,362.24 L505.49,362.25 L505.70,362.26 L505.90,362.28 L506.11,362.29 L506.32,362.31 L506.53,362.32 L506.74,362.33 L506.95,362.35 L507.15,362.36 L507.36,362.38 L507.57,362.39 L507.78,362.40 L507.99,362.42 L508.19,362.43 L508.40,362.45 L508.61,362.46 L508.82,362.47 L509.03,362.49 L509.24,362.50 L509.44,362.52 L509.65,362.53 L509.86,362.55 L510.07,362.56 L510.28,362.57 L510.49,362.59 L510.69,362.60 L510.90,362.62 L511.11,362.63 L511.32,362.64 L511.53,362.66 L511.74,362.67 L511.94,362.69 L512.15,362.70 L512.36,362.72 L512.57,362.73 L512.78,362.74 L512.99,362.76 L513.19,362.77 L513.40,362.79 L513.61,362.80 L513.82,362.81 L514.03,362.83 L514.24,362.84 L514.44,362.86 L514.65,362.87 L514.86,362.89 L515.07,362.90 L515.28,362.91 L515.49,362.93 L515.69,362.94 L515.90,362.96 L516.11,362.97 L516.32,362.99 L516.53,363.00 L516.74,363.01 L516.94,363.03 L517.15,363.04 L517.36,363.06 L517.57,363.07 L517.78,363.09 L517.99,363.10 L518.19,363.11 L518.40,363.13 L518.61,363.14 L518.82,363.16 L519.03,363.17 L519.23,363.19 L519.44,363.20 L519.65,363.21 L519.86,363.23 L520.07,363.24 L520.28,363.26 L520.48,363.27 L520.69,363.29 L520.90,363.30 L521.11,363.31 L521.32,363.33 L521.53,363.34 L521.73,363.36 L521.94,363.37 L522.15,363.39 L522.36,363.40 L522.57,363.41 L522.78,363.43 L522.98,363.44 L523.19,363.46 L523.40,363.47 L523.61,363.49 L523.82,363.50 L524.03,363.51 L524.23,363.53 L524.44,363.54 L524.65,363.56 L524.86,363.57 L525.07,363.59 L525.28,363.60 L525.48,363.61 L525.69,363.63 L525.90,363.64 L526.11,363.66 L526.32,363.67 L526.53,363.69 L526.73,363.70 L526.94,363.72 L527.15,363.73 L527.36,363.74 L527.57,363.76 L527.78,363.77 L527.98,363.79 L528.19,363.80 L528.40,363.82" fill="none" stroke="#6ea01e" stroke-width="1.1" stroke-linejoin="round" marker-start="url(#mg)" marker-mid="url(#mg)" marker-end="url(#mg)"/>
<path d="M320.31,129.89 L320.52,178.34 L320.72,192.42 L320.93,201.19 L321.14,209.81 L321.35,214.39 L321.56,217.80 L321.77,221.03 L321.97,224.77 L322.18,228.70 L322.39,232.75 L322.60,236.90 L322.81,240.88 L323.02,244.71 L323.22,248.40 L323.43,251.70 L323.64,254.44 L323.85,257.00 L324.06,259.70 L324.27,262.47 L324.47,265.24 L324.68,267.94 L324.89,270.49 L325.10,272.83 L325.31,275.02 L325.52,277.19 L325.72,279.32 L325.93,281.37 L326.14,283.33 L326.35,285.20 L326.56,286.93 L326.77,288.51 L326.97,289.94 L327.18,291.21 L327.39,292.36 L327.60,293.42 L327.81,294.42 L328.02,295.35 L328.22,296.21 L328.43,297.02 L328.64,297.78 L328.85,298.48 L329.06,299.14 L329.27,299.76 L329.47,300.34 L329.68,300.89 L329.89,301.42 L330.10,301.92 L330.31,302.40 L330.52,302.86 L330.72,303.30 L330.93,303.73 L331.14,304.14 L331.35,304.54 L331.56,304.92 L331.76,305.29 L331.97,305.64 L332.18,305.99 L332.39,306.32 L332.60,306.65 L332.81,306.97 L333.01,307.29 L333.22,307.59 L333.43,307.90 L333.64,308.19 L333.85,308.48 L334.06,308.77 L334.26,309.05 L334.47,309.32 L334.68,309.59 L334.89,309.85 L335.10,310.11 L335.31,310.36 L335.51,310.61 L335.72,310.86 L335.93,311.09 L336.14,311.33 L336.35,311.55 L336.56,311.78 L336.76,312.00 L336.97,312.21 L337.18,312.42 L337.39,312.62 L337.60,312.82 L337.81,313.02 L338.01,313.21 L338.22,313.39 L338.43,313.57 L338.64,313.75 L338.85,313.92 L339.06,314.09 L339.26,314.26 L339.47,314.43 L339.68,314.59 L339.89,314.75 L340.10,314.90 L340.31,315.06 L340.51,315.21 L340.72,315.35 L340.93,315.50 L341.14,315.64 L341.35,315.78 L341.55,315.92 L341.76,316.06 L341.97,316.19 L342.18,316.33 L342.39,316.46 L342.60,316.58 L342.80,316.71 L343.01,316.83 L343.22,316.96 L343.43,317.08 L343.64,317.19 L343.85,317.31 L344.05,317.42 L344.26,317.54 L344.47,317.65 L344.68,317.75 L344.89,317.86 L345.10,317.97 L345.30,318.07 L345.51,318.17 L345.72,318.27 L345.93,318.37 L346.14,318.47 L346.35,318.57 L346.55,318.66 L346.76,318.76 L346.97,318.85 L347.18,318.94 L347.39,319.03 L347.60,319.12 L347.80,319.20 L348.01,319.29 L348.22,319.37 L348.43,319.46 L348.64,319.54 L348.85,319.62 L349.05,319.70 L349.26,319.78 L349.47,319.86 L349.68,319.93 L349.89,320.01 L350.10,320.09 L350.30,320.16 L350.51,320.23 L350.72,320.31 L350.93,320.38 L351.14,320.45 L351.35,320.52 L351.55,320.59 L351.76,320.66 L351.97,320.73 L352.18,320.80 L352.39,320.87 L352.59,320.94 L352.80,321.00 L353.01,321.07 L353.22,321.13 L353.43,321.20 L353.64,321.26 L353.84,321.32 L354.05,321.39 L354.26,321.45 L354.47,321.51 L354.68,321.57 L354.89,321.63 L355.09,321.69 L355.30,321.75 L355.51,321.81 L355.72,321.87 L355.93,321.93 L356.14,321.99 L356.34,322.04 L356.55,322.10 L356.76,322.16 L356.97,322.21 L357.18,322.27 L357.39,322.32 L357.59,322.38 L357.80,322.43 L358.01,322.49 L358.22,322.55 L358.43,322.60 L358.64,322.66 L358.84,322.71 L359.05,322.77 L359.26,322.82 L359.47,322.88 L359.68,322.93 L359.89,322.99 L360.09,323.04 L360.30,323.10 L360.51,323.15 L360.72,323.21 L360.93,323.27 L361.14,323.32 L361.34,323.38 L361.55,323.44 L361.76,323.49 L361.97,323.55 L362.18,323.61 L362.38,323.66 L362.59,323.72 L362.80,323.78 L363.01,323.84 L363.22,323.90 L363.43,323.95 L363.63,324.01 L363.84,324.07 L364.05,324.13 L364.26,324.19 L364.47,324.24 L364.68,324.30 L364.88,324.36 L365.09,324.42 L365.30,324.47 L365.51,324.53 L365.72,324.58 L365.93,324.64 L366.13,324.70 L366.34,324.75 L366.55,324.80 L366.76,324.86 L366.97,324.91 L367.18,324.96 L367.38,325.01 L367.59,325.06 L367.80,325.11 L368.01,325.16 L368.22,325.21 L368.43,325.26 L368.63,325.30 L368.84,325.35 L369.05,325.39 L369.26,325.44 L369.47,325.48 L369.68,325.52 L369.88,325.56 L370.09,325.61 L370.30,325.65 L370.51,325.69 L370.72,325.72 L370.93,325.76 L371.13,325.80 L371.34,325.84 L371.55,325.87 L371.76,325.91 L371.97,325.95 L372.18,325.98 L372.38,326.02 L372.59,326.05 L372.80,326.08 L373.01,326.12 L373.22,326.15 L373.42,326.18 L373.63,326.21 L373.84,326.24 L374.05,326.28 L374.26,326.31 L374.47,326.34 L374.67,326.37 L374.88,326.40 L375.09,326.43 L375.30,326.46 L375.51,326.49 L375.72,326.51 L375.92,326.54 L376.13,326.57 L376.34,326.60 L376.55,326.63 L376.76,326.66 L376.97,326.68 L377.17,326.71 L377.38,326.74 L377.59,326.76 L377.80,326.79 L378.01,326.82 L378.22,326.85 L378.42,326.87 L378.63,326.90 L378.84,326.92 L379.05,326.95 L379.26,326.98 L379.47,327.00 L379.67,327.03 L379.88,327.06 L380.09,327.08 L380.30,327.11 L380.51,327.13 L380.72,327.16 L380.92,327.18 L381.13,327.21 L381.34,327.23 L381.55,327.26 L381.76,327.28 L381.97,327.31 L382.17,327.33 L382.38,327.36 L382.59,327.38 L382.80,327.41 L383.01,327.43 L383.21,327.46 L383.42,327.48 L383.63,327.50 L383.84,327.53 L384.05,327.55 L384.26,327.58 L384.46,327.60 L384.67,327.62 L384.88,327.65 L385.09,327.67 L385.30,327.69 L385.51,327.72 L385.71,327.74 L385.92,327.76 L386.13,327.78 L386.34,327.81 L386.55,327.83 L386.76,327.85 L386.96,327.87 L387.17,327.89 L387.38,327.92 L387.59,327.94 L387.80,327.96 L388.01,327.98 L388.21,328.00 L388.42,328.03 L388.63,328.05 L388.84,328.07 L389.05,328.09 L389.26,328.11 L389.46,328.13 L389.67,328.16 L389.88,328.18 L390.09,328.20 L390.30,328.22 L390.51,328.24 L390.71,328.26 L390.92,328.29 L391.13,328.31 L391.34,328.33 L391.55,328.35 L391.76,328.37 L391.96,328.40 L392.17,328.42 L392.38,328.44 L392.59,328.46 L392.80,328.49 L393.00,328.51 L393.21,328.53 L393.42,328.56 L393.63,328.58 L393.84,328.60 L394.05,328.63 L394.25,328.65 L394.46,328.67 L394.67,328.70 L394.88,328.72 L395.09,328.75 L395.30,328.77 L395.50,328.80 L395.71,328.82 L395.92,328.85 L396.13,328.88 L396.34,328.90 L396.55,328.93 L396.75,328.96 L396.96,328.98 L397.17,329.01 L397.38,329.04 L397.59,329.06 L397.80,329.09 L398.00,329.12 L398.21,329.15 L398.42,329.18 L398.63,329.20 L398.84,329.23 L399.05,329.26 L399.25,329.29 L399.46,329.32 L399.67,329.35 L399.88,329.37 L400.09,329.40 L400.30,329.43 L400.50,329.46 L400.71,329.49 L400.92,329.51 L401.13,329.54 L401.34,329.57 L401.55,329.60 L401.75,329.62 L401.96,329.65 L402.17,329.68 L402.38,329.70 L402.59,329.73 L402.80,329.75 L403.00,329.78 L403.21,329.80 L403.42,329.82 L403.63,329.85 L403.84,329.87 L404.04,329.89 L404.25,329.92 L404.46,329.94 L404.67,329.96 L404.88,329.98 L405.09,330.00 L405.29,330.02 L405.50,330.04 L405.71,330.06 L405.92,330.08 L406.13,330.10 L406.34,330.11 L406.54,330.13 L406.75,330.15 L406.96,330.16 L407.17,330.18 L407.38,330.20 L407.59,330.21 L407.79,330.23 L408.00,330.24 L408.21,330.26 L408.42,330.27 L408.63,330.29 L408.84,330.30 L409.04,330.31 L409.25,330.33 L409.46,330.34 L409.67,330.35 L409.88,330.37 L410.09,330.38 L410.29,330.39 L410.50,330.40 L410.71,330.41 L410.92,330.43 L411.13,330.44 L411.34,330.45 L411.54,330.46 L411.75,330.47 L411.96,330.48 L412.17,330.49 L412.38,330.50 L412.59,330.51 L412.79,330.52 L413.00,330.53 L413.21,330.54 L413.42,330.55 L413.63,330.56 L413.84,330.57 L414.04,330.58 L414.25,330.59 L414.46,330.60 L414.67,330.61 L414.88,330.62 L415.08,330.63 L415.29,330.64 L415.50,330.65 L415.71,330.66 L415.92,330.67 L416.13,330.68 L416.33,330.69 L416.54,330.69 L416.75,330.70 L416.96,330.71 L417.17,330.72 L417.38,330.73 L417.58,330.74 L417.79,330.75 L418.00,330.76 L418.21,330.77 L418.42,330.78 L418.63,330.79 L418.83,330.80 L419.04,330.80 L419.25,330.81 L419.46,330.82 L419.67,330.83 L419.88,330.84 L420.08,330.85 L420.29,330.86 L420.50,330.87 L420.71,330.88 L420.92,330.89 L421.13,330.90 L421.33,330.91 L421.54,330.92 L421.75,330.93 L421.96,330.94 L422.17,330.95 L422.38,330.96 L422.58,330.97 L422.79,330.98 L423.00,330.98 L423.21,330.99 L423.42,331.00 L423.63,331.01 L423.83,331.02 L424.04,331.03 L424.25,331.04 L424.46,331.05 L424.67,331.07 L424.87,331.08 L425.08,331.09 L425.29,331.10 L425.50,331.11 L425.71,331.12 L425.92,331.13 L426.12,331.14 L426.33,331.15 L426.54,331.16 L426.75,331.17 L426.96,331.18 L427.17,331.19 L427.37,331.20 L427.58,331.21 L427.79,331.22 L428.00,331.23 L428.21,331.24 L428.42,331.25 L428.62,331.26 L428.83,331.27 L429.04,331.28 L429.25,331.30 L429.46,331.31 L429.67,331.32 L429.87,331.33 L430.08,331.34 L430.29,331.35 L430.50,331.36 L430.71,331.37 L430.92,331.38 L431.12,331.39 L431.33,331.40 L431.54,331.41 L431.75,331.43 L431.96,331.44 L432.17,331.45 L432.37,331.46 L432.58,331.47 L432.79,331.48 L433.00,331.49 L433.21,331.50 L433.42,331.51 L433.62,331.52 L433.83,331.53 L434.04,331.55 L434.25,331.56 L434.46,331.57 L434.66,331.58 L434.87,331.59 L435.08,331.60 L435.29,331.61 L435.50,331.62 L435.71,331.63 L435.91,331.65 L436.12,331.66 L436.33,331.67 L436.54,331.68 L436.75,331.69 L436.96,331.70 L437.16,331.71 L437.37,331.72 L437.58,331.73 L437.79,331.75 L438.00,331.76 L438.21,331.77 L438.41,331.78 L438.62,331.79 L438.83,331.80 L439.04,331.81 L439.25,331.83 L439.46,331.84 L439.66,331.85 L439.87,331.86 L440.08,331.87 L440.29,331.88 L440.50,331.90 L440.71,331.91 L440.91,331.92 L441.12,331.93 L441.33,331.94 L441.54,331.95 L441.75,331.97 L441.96,331.98 L442.16,331.99 L442.37,332.00 L442.58,332.01 L442.79,332.03 L443.00,332.04 L443.21,332.05 L443.41,332.06 L443.62,332.08 L443.83,332.09 L444.04,332.10 L444.25,332.11 L444.46,332.12 L444.66,332.14 L444.87,332.15 L445.08,332.16 L445.29,332.18 L445.50,332.19 L445.70,332.20 L445.91,332.21 L446.12,332.23 L446.33,332.24 L446.54,332.25 L446.75,332.26 L446.95,332.28 L447.16,332.29 L447.37,332.30 L447.58,332.32 L447.79,332.33 L448.00,332.34 L448.20,332.36 L448.41,332.37 L448.62,332.38 L448.83,332.40 L449.04,332.41 L449.25,332.42 L449.45,332.44 L449.66,332.45 L449.87,332.46 L450.08,332.48 L450.29,332.49 L450.50,332.50 L450.70,332.52 L450.91,332.53 L451.12,332.54 L451.33,332.56 L451.54,332.57 L451.75,332.58 L451.95,332.60 L452.16,332.61 L452.37,332.62 L452.58,332.64 L452.79,332.65 L453.00,332.66 L453.20,332.68 L453.41,332.69 L453.62,332.70 L453.83,332.72 L454.04,332.73 L454.25,332.74 L454.45,332.76 L454.66,332.77 L454.87,332.78 L455.08,332.79 L455.29,332.81 L455.50,332.82 L455.70,332.83 L455.91,332.85 L456.12,332.86 L456.33,332.87 L456.54,332.88 L456.74,332.90 L456.95,332.91 L457.16,332.92 L457.37,332.93 L457.58,332.94 L457.79,332.96 L457.99,332.97 L458.20,332.98 L458.41,332.99 L458.62,333.00 L458.83,333.01 L459.04,333.03 L459.24,333.04 L459.45,333.05 L459.66,333.06 L459.87,333.07 L460.08,333.08 L460.29,333.09 L460.49,333.10 L460.70,333.11 L460.91,333.12 L461.12,333.13 L461.33,333.14 L461.54,333.15 L461.74,333.16 L461.95,333.17 L462.16,333.18 L462.37,333.19 L462.58,333.20 L462.79,333.21 L462.99,333.22 L463.20,333.23 L463.41,333.24 L463.62,333.25 L463.83,333.26 L464.04,333.26 L464.24,333.27 L464.45,333.28 L464.66,333.29 L464.87,333.30 L465.08,333.31 L465.29,333.31 L465.49,333.32 L465.70,333.33 L465.91,333.34 L466.12,333.35 L466.33,333.35 L466.53,333.36 L466.74,333.37 L466.95,333.37 L467.16,333.38 L467.37,333.39 L467.58,333.39 L467.78,333.40 L467.99,333.41 L468.20,333.41 L468.41,333.42 L468.62,333.43 L468.83,333.43 L469.03,333.44 L469.24,333.45 L469.45,333.45 L469.66,333.46 L469.87,333.46 L470.08,333.47 L470.28,333.48 L470.49,333.48 L470.70,333.49 L470.91,333.49 L471.12,333.50 L471.33,333.50 L471.53,333.51 L471.74,333.51 L471.95,333.52 L472.16,333.52 L472.37,333.53 L472.58,333.53 L472.78,333.54 L472.99,333.54 L473.20,333.55 L473.41,333.55 L473.62,333.56 L473.83,333.56 L474.03,333.57 L474.24,333.57 L474.45,333.58 L474.66,333.58 L474.87,333.58 L475.08,333.59 L475.28,333.59 L475.49,333.60 L475.70,333.60 L475.91,333.61 L476.12,333.61 L476.32,333.61 L476.53,333.62 L476.74,333.62 L476.95,333.63 L477.16,333.63 L477.37,333.63 L477.57,333.64 L477.78,333.64 L477.99,333.64 L478.20,333.65 L478.41,333.65 L478.62,333.66 L478.82,333.66 L479.03,333.66 L479.24,333.67 L479.45,333.67 L479.66,333.67 L479.87,333.68 L480.07,333.68 L480.28,333.68 L480.49,333.69 L480.70,333.69 L480.91,333.69 L481.12,333.70 L481.32,333.70 L481.53,333.70 L481.74,333.71 L481.95,333.71 L482.16,333.71 L482.37,333.72 L482.57,333.72 L482.78,333.72 L482.99,333.73 L483.20,333.73 L483.41,333.73 L483.62,333.73 L483.82,333.74 L484.03,333.74 L484.24,333.74 L484.45,333.75 L484.66,333.75 L484.87,333.75 L485.07,333.76 L485.28,333.76 L485.49,333.76 L485.70,333.76 L485.91,333.77 L486.12,333.77 L486.32,333.77 L486.53,333.78 L486.74,333.78 L486.95,333.78 L487.16,333.78 L487.36,333.79 L487.57,333.79 L487.78,333.79 L487.99,333.80 L488.20,333.80 L488.41,333.80 L488.61,333.80 L488.82,333.81 L489.03,333.81 L489.24,333.81 L489.45,333.82 L489.66,333.82 L489.86,333.82 L490.07,333.82 L490.28,333.83 L490.49,333.83 L490.70,333.83 L490.91,333.83 L491.11,333.84 L491.32,333.84 L491.53,333.84 L491.74,333.84 L491.95,333.85 L492.16,333.85 L492.36,333.85 L492.57,333.85 L492.78,333.86 L492.99,333.86 L493.20,333.86 L493.41,333.87 L493.61,333.87 L493.82,333.87 L494.03,333.87 L494.24,333.88 L494.45,333.88 L494.66,333.88 L494.86,333.88 L495.07,333.89 L495.28,333.89 L495.49,333.89 L495.70,333.89 L495.91,333.90 L496.11,333.90 L496.32,333.90 L496.53,333.90 L496.74,333.91 L496.95,333.91 L497.15,333.91 L497.36,333.91 L497.57,333.91 L497.78,333.92 L497.99,333.92 L498.20,333.92 L498.40,333.92 L498.61,333.93 L498.82,333.93 L499.03,333.93 L499.24,333.93 L499.45,333.94 L499.65,333.94 L499.86,333.94 L500.07,333.94 L500.28,333.95 L500.49,333.95 L500.70,333.95 L500.90,333.95 L501.11,333.95 L501.32,333.96 L501.53,333.96 L501.74,333.96 L501.95,333.96 L502.15,333.97 L502.36,333.97 L502.57,333.97 L502.78,333.97 L502.99,333.97 L503.20,333.98 L503.40,333.98 L503.61,333.98 L503.82,333.98 L504.03,333.99 L504.24,333.99 L504.45,333.99 L504.65,333.99 L504.86,333.99 L505.07,334.00 L505.28,334.00 L505.49,334.00 L505.70,334.00 L505.90,334.00 L506.11,334.01 L506.32,334.01 L506.53,334.01 L506.74,334.01 L506.95,334.02 L507.15,334.02 L507.36,334.02 L507.57,334.02 L507.78,334.02 L507.99,334.03 L508.19,334.03 L508.40,334.03 L508.61,334.03 L508.82,334.03 L509.03,334.03 L509.24,334.04 L509.44,334.04 L509.65,334.04 L509.86,334.04 L510.07,334.04 L510.28,334.05 L510.49,334.05 L510.69,334.05 L510.90,334.05 L511.11,334.05 L511.32,334.06 L511.53,334.06 L511.74,334.06 L511.94,334.06 L512.15,334.06 L512.36,334.06 L512.57,334.07 L512.78,334.07 L512.99,334.07 L513.19,334.07 L513.40,334.07 L513.61,334.07 L513.82,334.08 L514.03,334.08 L514.24,334.08 L514.44,334.08 L514.65,334.08 L514.86,334.08 L515.07,334.09 L515.28,334.09 L515.49,334.09 L515.69,334.09 L515.90,334.09 L516.11,334.09 L516.32,334.10 L516.53,334.10 L516.74,334.10 L516.94,334.10 L517.15,334.10 L517.36,334.10 L517.57,334.10 L517.78,334.11 L517.99,334.11 L518.19,334.11 L518.40,334.11 L518.61,334.11 L518.82,334.11 L519.03,334.12 L519.23,334.12 L519.44,334.12 L519.65,334.12 L519.86,334.12 L520.07,334.12 L520.28,334.12 L520.48,334.13 L520.69,334.13 L520.90,334.13 L521.11,334.13 L521.32,334.13 L521.53,334.13 L521.73,334.13 L521.94,334.13 L522.15,334.14 L522.36,334.14 L522.57,334.14 L522.78,334.14 L522.98,334.14 L523.19,334.14 L523.40,334.14 L523.61,334.14 L523.82,334.15 L524.03,334.15 L524.23,334.15 L524.44,334.15 L524.65,334.15 L524.86,334.15 L525.07,334.15 L525.28,334.16 L525.48,334.16 L525.69,334.16 L525.90,334.16 L526.11,334.16 L526.32,334.16 L526.53,334.16 L526.73,334.16 L526.94,334.16 L527.15,334.17 L527.36,334.17 L527.57,334.17 L527.78,334.17 L527.98,334.17 L528.19,334.17 L528.40,334.17" fill="none" stroke="#000000" stroke-width="1.1" stroke-linejoin="round" marker-start="url(#mk)" marker-mid="url(#mk)" marker-end="url(#mk)"/>
</g>
<g font-size="10" fill="#404040" stroke="#404040" stroke-width="0.2">
<text x="311.2" y="373.3" text-anchor="end">10</text>
<text x="311.7" y="368.2" font-size="7.5">0</text>
<text x="311.2" y="257.5" text-anchor="end">10</text>
<text x="311.7" y="252.4" font-size="7.5">1</text>
<text x="311.2" y="141.7" text-anchor="end">10</text>
<text x="311.7" y="136.6" font-size="7.5">2</text>
<text x="311.2" y="25.9" text-anchor="end">10</text>
<text x="311.7" y="20.8" font-size="7.5">3</text>
<text x="320.1" y="402.8" text-anchor="middle">0</text>
<text x="361.8" y="402.8" text-anchor="middle">200</text>
<text x="403.4" y="402.8" text-anchor="middle">400</text>
<text x="445.1" y="402.8" text-anchor="middle">600</text>
<text x="486.7" y="402.8" text-anchor="middle">800</text>
<text x="528.4" y="402.8" text-anchor="middle">1000</text>
</g>
<text x="424.2" y="418" font-size="11.3" fill="#404040" stroke="#404040" stroke-width="0.2" text-anchor="middle">Iteration</text>
<text transform="translate(293.6,197.5) rotate(-90)" font-size="11.3" fill="#404040" stroke="#404040" stroke-width="0.2" text-anchor="middle">Training Loss</text>
</g>
<rect x="131.4" y="15.6" width="113.2" height="59.5" fill="#fff" stroke="#7c7c7c" stroke-width="1"/>
<path d="M135.20000000000002,22.8 h31" stroke="#ff1436" stroke-width="1.3"/>
<circle cx="150.4" cy="22.8" r="0.9" fill="#ff1436"/>
<text x="168.8" y="26.1" font-size="8.3" fill="#111" stroke="#111" stroke-width="0.15">Model4201 (10-fold)</text>
<path d="M135.20000000000002,34.2 h31" stroke="#f0901e" stroke-width="1.3"/>
<circle cx="150.4" cy="34.2" r="0.9" fill="#f0901e"/>
<text x="168.8" y="37.5" font-size="8.3" fill="#111" stroke="#111" stroke-width="0.15">Model4301 (5-fold)</text>
<path d="M135.20000000000002,45.6 h31" stroke="#1e9cff" stroke-width="1.3"/>
<circle cx="150.4" cy="45.6" r="0.9" fill="#1e9cff"/>
<text x="168.8" y="48.9" font-size="8.3" fill="#111" stroke="#111" stroke-width="0.15">Model4401 (10-fold)</text>
<path d="M135.20000000000002,57.0 h31" stroke="#6ea01e" stroke-width="1.3"/>
<circle cx="150.4" cy="57.0" r="0.9" fill="#6ea01e"/>
<text x="168.8" y="60.3" font-size="8.3" fill="#111" stroke="#111" stroke-width="0.15">Model4501 (10-fold)</text>
<path d="M135.20000000000002,68.4 h31" stroke="#000000" stroke-width="1.3"/>
<circle cx="150.4" cy="68.4" r="0.9" fill="#000000"/>
<text x="168.8" y="71.7" font-size="8.3" fill="#111" stroke="#111" stroke-width="0.15">Model4701 (10-fold)</text>
<text x="150.2" y="107.9" font-size="9.4" fill="#ff1e46" stroke="#ff1e46" stroke-width="0.15">RMSE = 1.0324, R<tspan dy="-4.8" font-size="7.8">2</tspan><tspan dy="4.8">&#160;= 0.9914</tspan></text>
<text x="150.2" y="123.0" font-size="9.4" fill="#f09632" stroke="#f09632" stroke-width="0.15">RMSE = 1.0690, R<tspan dy="-4.8" font-size="7.8">2</tspan><tspan dy="4.8">&#160;= 0.9907</tspan></text>
<text x="150.2" y="138.1" font-size="9.4" fill="#1e9cff" stroke="#1e9cff" stroke-width="0.15">RMSE = 1.1544, R<tspan dy="-4.8" font-size="7.8">2</tspan><tspan dy="4.8">&#160;= 0.9892</tspan></text>
<text x="150.2" y="153.2" font-size="9.4" fill="#78a532" stroke="#78a532" stroke-width="0.15">RMSE = 1.2083, R<tspan dy="-4.8" font-size="7.8">2</tspan><tspan dy="4.8">&#160;= 0.9882</tspan></text>
<text x="150.2" y="168.3" font-size="9.4" fill="#1a1a1a" stroke="#1a1a1a" stroke-width="0.15">RMSE = 1.5505, R<tspan dy="-4.8" font-size="7.8">2</tspan><tspan dy="4.8">&#160;= 0.9805</tspan></text>
<rect x="405.4" y="15.6" width="113.2" height="59.5" fill="#fff" stroke="#7c7c7c" stroke-width="1"/>
<path d="M409.2,22.8 h31" stroke="#ff1436" stroke-width="1.3"/>
<circle cx="424.4" cy="22.8" r="0.9" fill="#ff1436"/>
<text x="442.8" y="26.1" font-size="8.3" fill="#111" stroke="#111" stroke-width="0.15">Model4201 (10-fold)</text>
<path d="M409.2,34.2 h31" stroke="#f0901e" stroke-width="1.3"/>
<circle cx="424.4" cy="34.2" r="0.9" fill="#f0901e"/>
<text x="442.8" y="37.5" font-size="8.3" fill="#111" stroke="#111" stroke-width="0.15">Model4301 (5-fold)</text>
<path d="M409.2,45.6 h31" stroke="#1e9cff" stroke-width="1.3"/>
<circle cx="424.4" cy="45.6" r="0.9" fill="#1e9cff"/>
<text x="442.8" y="48.9" font-size="8.3" fill="#111" stroke="#111" stroke-width="0.15">Model4401 (10-fold)</text>
<path d="M409.2,57.0 h31" stroke="#6ea01e" stroke-width="1.3"/>
<circle cx="424.4" cy="57.0" r="0.9" fill="#6ea01e"/>
<text x="442.8" y="60.3" font-size="8.3" fill="#111" stroke="#111" stroke-width="0.15">Model4501 (10-fold)</text>
<path d="M409.2,68.4 h31" stroke="#000000" stroke-width="1.3"/>
<circle cx="424.4" cy="68.4" r="0.9" fill="#000000"/>
<text x="442.8" y="71.7" font-size="8.3" fill="#111" stroke="#111" stroke-width="0.15">Model4701 (10-fold)</text>
<text x="424.2" y="107.9" font-size="9.4" fill="#ff1e46" stroke="#ff1e46" stroke-width="0.15">RMSE = 1.0324, R<tspan dy="-4.8" font-size="7.8">2</tspan><tspan dy="4.8">&#160;= 0.9914</tspan></text>
<text x="424.2" y="123.0" font-size="9.4" fill="#f09632" stroke="#f09632" stroke-width="0.15">RMSE = 1.0690, R<tspan dy="-4.8" font-size="7.8">2</tspan><tspan dy="4.8">&#160;= 0.9907</tspan></text>
<text x="424.2" y="138.1" font-size="9.4" fill="#1e9cff" stroke="#1e9cff" stroke-width="0.15">RMSE = 1.1544, R<tspan dy="-4.8" font-size="7.8">2</tspan><tspan dy="4.8">&#160;= 0.9892</tspan></text>
<text x="424.2" y="153.2" font-size="9.4" fill="#78a532" stroke="#78a532" stroke-width="0.15">RMSE = 1.2083, R<tspan dy="-4.8" font-size="7.8">2</tspan><tspan dy="4.8">&#160;= 0.9882</tspan></text>
<text x="424.2" y="168.3" font-size="9.4" fill="#1a1a1a" stroke="#1a1a1a" stroke-width="0.15">RMSE = 1.5505, R<tspan dy="-4.8" font-size="7.8">2</tspan><tspan dy="4.8">&#160;= 0.9805</tspan></text>
</svg>
</body></html>
